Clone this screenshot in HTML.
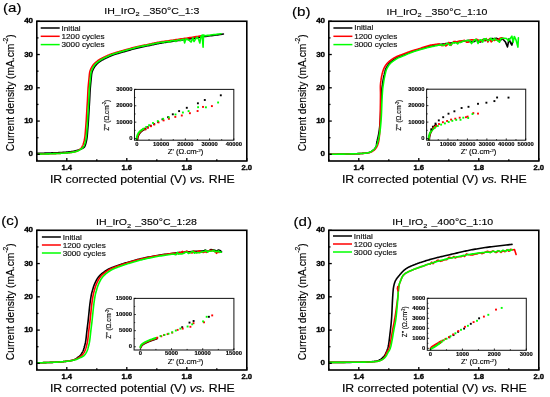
<!DOCTYPE html>
<html><head><meta charset="utf-8"><title>IrO2 polarization curves</title>
<style>
html,body{margin:0;padding:0;background:#fff;}
svg{display:block;}
text{font-family:'Liberation Sans', Arial, sans-serif;}
</style></head>
<body>
<svg width="550" height="397" viewBox="0 0 550 397">
<rect width="550" height="397" fill="#fff"/>
<text transform="translate(3.00,12.00) scale(1.24,1)" font-size="12.2" font-weight="normal" text-anchor="start" fill="#000" stroke="#000" stroke-width="0.15">(a)</text>
<text transform="translate(104.30,14.20) scale(1.228,1)" font-size="8.6" font-weight="normal" text-anchor="start" fill="#000" stroke="#000" stroke-width="0.12">IH_IrO<tspan font-size="6" dy="2.2">2</tspan><tspan dy="-2.2" dx="0.9"> _350&#176;C_1:3</tspan></text>
<text transform="translate(33.10,156.35) scale(1.22,1)" font-size="6.6" font-weight="bold" text-anchor="end" fill="#000" stroke="#000" stroke-width="0.3">0</text>
<text transform="translate(33.10,123.07) scale(1.22,1)" font-size="6.6" font-weight="bold" text-anchor="end" fill="#000" stroke="#000" stroke-width="0.3">10</text>
<text transform="translate(33.10,89.80) scale(1.22,1)" font-size="6.6" font-weight="bold" text-anchor="end" fill="#000" stroke="#000" stroke-width="0.3">20</text>
<text transform="translate(33.10,56.52) scale(1.22,1)" font-size="6.6" font-weight="bold" text-anchor="end" fill="#000" stroke="#000" stroke-width="0.3">30</text>
<text transform="translate(33.10,23.25) scale(1.22,1)" font-size="6.6" font-weight="bold" text-anchor="end" fill="#000" stroke="#000" stroke-width="0.3">40</text>
<text transform="translate(66.80,169.80) scale(1.18,1)" font-size="6.5" font-weight="bold" text-anchor="middle" fill="#000" stroke="#000" stroke-width="0.3">1.4</text>
<text transform="translate(126.80,169.80) scale(1.18,1)" font-size="6.5" font-weight="bold" text-anchor="middle" fill="#000" stroke="#000" stroke-width="0.3">1.6</text>
<text transform="translate(186.80,169.80) scale(1.18,1)" font-size="6.5" font-weight="bold" text-anchor="middle" fill="#000" stroke="#000" stroke-width="0.3">1.8</text>
<text transform="translate(246.80,169.80) scale(1.18,1)" font-size="6.5" font-weight="bold" text-anchor="middle" fill="#000" stroke="#000" stroke-width="0.3">2.0</text>
<text transform="translate(49.90,183.10) scale(1.228,1)" font-size="10.0" font-weight="normal" text-anchor="start" fill="#000" stroke="#000" stroke-width="0.15">IR corrected potential (V) <tspan font-style="italic">vs.</tspan> RHE</text>
<text transform="translate(14.00,92.75) scale(1.15,1) rotate(-90)" font-size="10.25" font-weight="normal" text-anchor="middle" fill="#000" stroke="#000" stroke-width="0.15">Current density (mA.cm<tspan font-size="6.6" dy="-5.0">-2</tspan><tspan dy="5.0">)</tspan></text>
<line x1="40.70" y1="28.00" x2="59.70" y2="28.00" stroke="#000" stroke-width="1.5" stroke-linecap="butt"/>
<text transform="translate(61.50,30.80) scale(1.22,1)" font-size="6.7" font-weight="normal" text-anchor="start" fill="#111" stroke="#111" stroke-width="0.15">Initial</text>
<line x1="40.70" y1="36.30" x2="59.70" y2="36.30" stroke="#ff0000" stroke-width="1.5" stroke-linecap="butt"/>
<text transform="translate(61.50,39.10) scale(1.22,1)" font-size="6.7" font-weight="normal" text-anchor="start" fill="#111" stroke="#111" stroke-width="0.15">1200 cycles</text>
<line x1="40.70" y1="44.60" x2="59.70" y2="44.60" stroke="#00ff00" stroke-width="1.5" stroke-linecap="butt"/>
<text transform="translate(61.50,47.40) scale(1.22,1)" font-size="6.7" font-weight="normal" text-anchor="start" fill="#111" stroke="#111" stroke-width="0.15">3000 cycles</text>
<path d="M37.00,153.40 L37.61,153.38 L38.37,153.36 L39.27,153.33 L40.27,153.30 L41.36,153.27 L42.52,153.24 L43.72,153.20 L44.95,153.16 L46.19,153.12 L47.40,153.08 L48.58,153.04 L49.70,153.00 L50.80,152.96 L51.93,152.92 L53.08,152.87 L54.24,152.83 L55.41,152.78 L56.58,152.73 L57.73,152.68 L58.86,152.63 L59.96,152.58 L61.02,152.52 L62.04,152.46 L63.00,152.40 L63.92,152.34 L64.82,152.27 L65.70,152.19 L66.55,152.12 L67.37,152.04 L68.16,151.96 L68.91,151.88 L69.63,151.80 L70.31,151.72 L70.95,151.65 L71.55,151.57 L72.10,151.50 L72.60,151.43 L73.03,151.36 L73.41,151.30 L73.74,151.23 L74.04,151.17 L74.30,151.11 L74.54,151.04 L74.77,150.98 L74.99,150.91 L75.22,150.84 L75.45,150.77 L75.70,150.70 L75.97,150.65 L76.24,150.59 L76.50,150.54 L76.75,150.48 L76.99,150.43 L77.23,150.37 L77.47,150.31 L77.70,150.25 L77.93,150.19 L78.16,150.12 L78.39,150.05 L78.62,149.98 L78.85,149.90 L79.08,149.82 L79.31,149.74 L79.54,149.65 L79.76,149.56 L79.98,149.46 L80.20,149.37 L80.42,149.27 L80.63,149.18 L80.84,149.08 L81.05,148.99 L81.25,148.90 L81.44,148.81 L81.63,148.73 L81.81,148.66 L81.99,148.58 L82.16,148.50 L82.33,148.43 L82.50,148.35 L82.67,148.26 L82.84,148.17 L83.02,148.06 L83.20,147.95 L83.38,147.82 L83.57,147.69 L83.75,147.55 L83.94,147.42 L84.12,147.28 L84.31,147.13 L84.46,146.93 L84.60,146.69 L84.74,146.43 L84.88,146.15 L85.02,145.83 L85.16,145.48 L85.30,145.10 L85.44,144.68 L85.58,144.23 L85.72,143.76 L85.87,143.26 L86.01,142.73 L86.15,142.17 L86.29,141.60 L86.42,141.00 L86.55,140.38 L86.68,139.74 L86.79,139.08 L86.90,138.40 L87.00,137.69 L87.09,136.93 L87.18,136.13 L87.26,135.30 L87.34,134.45 L87.41,133.58 L87.48,132.71 L87.55,131.85 L87.61,131.00 L87.68,130.17 L87.74,129.36 L87.80,128.60 L87.86,127.88 L87.92,127.21 L87.97,126.57 L88.02,125.95 L88.07,125.34 L88.11,124.74 L88.16,124.13 L88.20,123.50 L88.25,122.84 L88.30,122.14 L88.35,121.40 L88.40,120.60 L88.46,119.73 L88.51,118.79 L88.57,117.79 L88.63,116.75 L88.69,115.68 L88.76,114.60 L88.82,113.52 L88.88,112.45 L88.94,111.41 L88.99,110.41 L89.05,109.47 L89.10,108.60 L89.15,107.80 L89.19,107.06 L89.24,106.37 L89.28,105.71 L89.32,105.08 L89.36,104.47 L89.40,103.87 L89.44,103.27 L89.48,102.65 L89.52,102.00 L89.56,101.32 L89.60,100.60 L89.64,99.82 L89.68,99.00 L89.72,98.15 L89.77,97.27 L89.81,96.37 L89.85,95.47 L89.89,94.58 L89.93,93.71 L89.97,92.87 L90.02,92.06 L90.06,91.30 L90.10,90.60 L90.14,89.96 L90.18,89.36 L90.22,88.80 L90.27,88.27 L90.31,87.77 L90.35,87.29 L90.39,86.83 L90.43,86.38 L90.47,85.94 L90.52,85.50 L90.56,85.05 L90.60,84.60 L90.64,84.15 L90.68,83.72 L90.72,83.31 L90.76,82.91 L90.80,82.51 L90.84,82.12 L90.88,81.72 L90.92,81.33 L90.96,80.92 L91.01,80.50 L91.05,80.06 L91.10,79.60 L91.15,79.11 L91.20,78.60 L91.25,78.06 L91.30,77.50 L91.35,76.94 L91.40,76.37 L91.46,75.81 L91.51,75.26 L91.58,74.73 L91.65,74.22 L91.72,73.74 L91.80,73.30 L91.88,72.90 L91.97,72.52 L92.06,72.17 L92.15,71.85 L92.25,71.54 L92.35,71.24 L92.46,70.96 L92.57,70.67 L92.69,70.39 L92.82,70.10 L92.95,69.81 L93.10,69.50 L93.25,69.18 L93.42,68.86 L93.59,68.53 L93.77,68.20 L93.95,67.88 L94.14,67.55 L94.34,67.23 L94.54,66.91 L94.75,66.59 L94.96,66.29 L95.18,65.99 L95.40,65.70 L95.62,65.42 L95.84,65.15 L96.07,64.89 L96.29,64.64 L96.52,64.39 L96.76,64.15 L97.01,63.91 L97.26,63.67 L97.53,63.43 L97.81,63.19 L98.10,62.95 L98.40,62.70 L98.72,62.45 L99.06,62.19 L99.42,61.93 L99.79,61.67 L100.16,61.41 L100.55,61.16 L100.94,60.90 L101.34,60.65 L101.73,60.40 L102.13,60.16 L102.52,59.93 L102.90,59.70 L103.28,59.48 L103.65,59.28 L104.03,59.08 L104.40,58.88 L104.77,58.69 L105.15,58.51 L105.53,58.32 L105.91,58.14 L106.30,57.96 L106.69,57.78 L107.09,57.59 L107.50,57.40 L107.91,57.21 L108.33,57.01 L108.76,56.82 L109.19,56.62 L109.62,56.42 L110.06,56.22 L110.51,56.03 L110.96,55.84 L111.41,55.65 L111.87,55.46 L112.33,55.28 L112.80,55.10 L113.27,54.93 L113.75,54.76 L114.23,54.60 L114.71,54.44 L115.20,54.29 L115.69,54.13 L116.19,53.98 L116.70,53.83 L117.21,53.67 L117.73,53.52 L118.26,53.36 L118.80,53.20 L119.33,53.04 L119.85,52.89 L120.36,52.74 L120.87,52.59 L121.39,52.44 L121.92,52.29 L122.48,52.13 L123.06,51.97 L123.67,51.79 L124.33,51.61 L125.04,51.41 L125.80,51.20 L126.62,50.97 L127.50,50.72 L128.43,50.45 L129.39,50.17 L130.39,49.89 L131.43,49.59 L132.48,49.30 L133.54,49.00 L134.61,48.71 L135.68,48.43 L136.75,48.16 L137.80,47.90 L138.86,47.65 L139.94,47.41 L141.05,47.17 L142.17,46.93 L143.30,46.70 L144.43,46.48 L145.55,46.25 L146.65,46.03 L147.74,45.82 L148.80,45.61 L149.82,45.40 L150.80,45.20 L151.72,45.00 L152.58,44.82 L153.39,44.64 L154.17,44.46 L154.93,44.29 L155.68,44.12 L156.43,43.95 L157.21,43.79 L158.02,43.62 L158.88,43.45 L159.80,43.28 L160.80,43.10 L161.87,42.92 L163.01,42.74 L164.20,42.56 L165.43,42.37 L166.70,42.19 L167.99,42.01 L169.30,41.82 L170.61,41.64 L171.93,41.45 L173.24,41.27 L174.53,41.08 L175.80,40.90 L177.05,40.72 L178.30,40.53 L179.55,40.35 L180.80,40.17 L182.05,39.99 L183.30,39.81 L184.55,39.62 L185.80,39.44 L187.05,39.26 L188.30,39.07 L189.55,38.89 L190.80,38.70 L192.05,38.51 L193.29,38.32 L194.53,38.13 L195.76,37.93 L197.00,37.74 L198.24,37.54 L199.48,37.35 L200.73,37.16 L201.98,36.96 L203.24,36.77 L204.51,36.58 L205.80,36.40 L207.15,36.21 L208.59,36.01 L210.10,35.81 L211.65,35.61 L213.21,35.40 L214.74,35.21 L216.22,35.02 L217.61,34.84 L218.90,34.67 L220.05,34.53 L221.02,34.40 L221.80,34.30 L223.40,34.00" fill="none" stroke="#000" stroke-width="1.6" stroke-linejoin="round" stroke-linecap="round"/>
<path d="M37.30,154.20 L37.91,154.18 L38.67,154.16 L39.57,154.13 L40.57,154.10 L41.66,154.07 L42.82,154.04 L44.02,154.00 L45.25,153.96 L46.49,153.92 L47.70,153.88 L48.88,153.84 L50.00,153.80 L51.10,153.76 L52.23,153.72 L53.38,153.67 L54.54,153.63 L55.71,153.58 L56.88,153.53 L58.03,153.48 L59.16,153.43 L60.26,153.38 L61.32,153.32 L62.34,153.26 L63.30,153.20 L64.22,153.14 L65.12,153.07 L66.00,152.99 L66.85,152.92 L67.67,152.84 L68.46,152.76 L69.21,152.68 L69.93,152.60 L70.61,152.53 L71.25,152.45 L71.85,152.37 L72.40,152.30 L72.90,152.23 L73.33,152.16 L73.71,152.10 L74.04,152.03 L74.34,151.97 L74.60,151.91 L74.84,151.84 L75.07,151.78 L75.29,151.71 L75.52,151.64 L75.75,151.57 L76.00,151.50 L76.24,151.42 L76.47,151.34 L76.69,151.26 L76.90,151.18 L77.11,151.10 L77.31,151.02 L77.51,150.93 L77.70,150.84 L77.89,150.75 L78.08,150.65 L78.26,150.55 L78.44,150.44 L78.62,150.33 L78.79,150.21 L78.97,150.08 L79.13,149.95 L79.30,149.82 L79.46,149.68 L79.62,149.54 L79.77,149.40 L79.92,149.26 L80.07,149.12 L80.21,148.98 L80.35,148.85 L80.49,148.72 L80.62,148.60 L80.75,148.49 L80.88,148.38 L81.00,148.27 L81.12,148.15 L81.23,148.04 L81.34,147.91 L81.45,147.77 L81.56,147.62 L81.66,147.45 L81.76,147.26 L81.86,147.06 L81.95,146.87 L82.05,146.67 L82.14,146.46 L82.23,146.25 L82.36,146.03 L82.50,145.79 L82.64,145.53 L82.78,145.25 L82.92,144.93 L83.06,144.58 L83.20,144.20 L83.34,143.78 L83.48,143.33 L83.62,142.86 L83.77,142.36 L83.91,141.83 L84.05,141.27 L84.19,140.70 L84.32,140.10 L84.45,139.48 L84.58,138.84 L84.69,138.18 L84.80,137.50 L84.90,136.79 L84.99,136.03 L85.08,135.23 L85.16,134.40 L85.24,133.55 L85.31,132.68 L85.38,131.81 L85.45,130.95 L85.51,130.10 L85.58,129.27 L85.64,128.46 L85.70,127.70 L85.76,126.98 L85.82,126.31 L85.87,125.67 L85.92,125.05 L85.97,124.44 L86.01,123.84 L86.06,123.23 L86.10,122.60 L86.15,121.94 L86.20,121.24 L86.25,120.50 L86.30,119.70 L86.36,118.83 L86.41,117.89 L86.47,116.89 L86.53,115.85 L86.59,114.78 L86.66,113.70 L86.72,112.62 L86.78,111.55 L86.84,110.51 L86.89,109.51 L86.95,108.57 L87.00,107.70 L87.05,106.90 L87.09,106.16 L87.14,105.47 L87.18,104.81 L87.22,104.18 L87.26,103.58 L87.30,102.97 L87.34,102.37 L87.38,101.75 L87.42,101.10 L87.46,100.42 L87.50,99.70 L87.54,98.92 L87.58,98.10 L87.62,97.25 L87.67,96.37 L87.71,95.47 L87.75,94.58 L87.79,93.68 L87.83,92.81 L87.88,91.97 L87.92,91.16 L87.96,90.40 L88.00,89.70 L88.04,89.06 L88.08,88.46 L88.12,87.90 L88.17,87.37 L88.21,86.87 L88.25,86.39 L88.29,85.93 L88.33,85.48 L88.38,85.04 L88.42,84.60 L88.46,84.15 L88.50,83.70 L88.54,83.25 L88.58,82.82 L88.62,82.41 L88.66,82.01 L88.70,81.61 L88.74,81.22 L88.78,80.82 L88.82,80.43 L88.86,80.02 L88.91,79.60 L88.95,79.16 L89.00,78.70 L89.05,78.21 L89.10,77.70 L89.15,77.16 L89.20,76.60 L89.25,76.04 L89.30,75.47 L89.36,74.91 L89.41,74.36 L89.48,73.83 L89.55,73.32 L89.62,72.84 L89.70,72.40 L89.78,72.00 L89.87,71.62 L89.96,71.27 L90.05,70.95 L90.15,70.64 L90.25,70.34 L90.36,70.06 L90.47,69.77 L90.59,69.49 L90.72,69.20 L90.85,68.91 L91.00,68.60 L91.15,68.28 L91.32,67.96 L91.49,67.63 L91.67,67.30 L91.85,66.98 L92.04,66.65 L92.24,66.33 L92.44,66.01 L92.65,65.69 L92.86,65.39 L93.08,65.09 L93.30,64.80 L93.52,64.52 L93.74,64.25 L93.97,63.99 L94.19,63.74 L94.42,63.49 L94.66,63.25 L94.91,63.01 L95.16,62.77 L95.43,62.53 L95.71,62.29 L96.00,62.05 L96.30,61.80 L96.62,61.55 L96.96,61.29 L97.32,61.03 L97.69,60.77 L98.06,60.51 L98.45,60.26 L98.84,60.00 L99.24,59.75 L99.63,59.50 L100.03,59.26 L100.42,59.03 L100.80,58.80 L101.18,58.58 L101.55,58.38 L101.93,58.18 L102.30,57.98 L102.67,57.79 L103.05,57.61 L103.43,57.42 L103.81,57.24 L104.20,57.06 L104.59,56.88 L104.99,56.69 L105.40,56.50 L105.81,56.31 L106.23,56.11 L106.66,55.92 L107.09,55.72 L107.52,55.52 L107.96,55.32 L108.41,55.13 L108.86,54.94 L109.31,54.75 L109.77,54.56 L110.23,54.38 L110.70,54.20 L111.17,54.03 L111.65,53.86 L112.13,53.70 L112.61,53.54 L113.10,53.39 L113.59,53.23 L114.09,53.08 L114.60,52.93 L115.11,52.77 L115.63,52.62 L116.16,52.46 L116.70,52.30 L117.23,52.14 L117.75,51.99 L118.26,51.84 L118.77,51.69 L119.29,51.54 L119.83,51.39 L120.38,51.23 L120.96,51.07 L121.58,50.89 L122.23,50.71 L122.94,50.51 L123.70,50.30 L124.52,50.07 L125.40,49.82 L126.33,49.55 L127.29,49.27 L128.29,48.99 L129.32,48.69 L130.38,48.40 L131.44,48.10 L132.51,47.81 L133.58,47.53 L134.65,47.26 L135.70,47.00 L136.76,46.75 L137.84,46.51 L138.95,46.27 L140.07,46.03 L141.20,45.80 L142.32,45.58 L143.45,45.35 L144.55,45.13 L145.64,44.92 L146.70,44.71 L147.72,44.50 L148.70,44.30 L149.62,44.10 L150.48,43.92 L151.29,43.74 L152.07,43.56 L152.83,43.39 L153.57,43.22 L154.33,43.05 L155.11,42.89 L155.92,42.72 L156.78,42.55 L157.70,42.38 L158.70,42.20 L159.77,42.02 L160.91,41.84 L162.10,41.66 L163.33,41.47 L164.60,41.29 L165.89,41.11 L167.20,40.92 L168.51,40.74 L169.83,40.55 L171.14,40.37 L172.43,40.18 L173.70,40.00 L174.95,39.82 L176.20,39.63 L177.45,39.45 L178.70,39.27 L179.95,39.09 L181.20,38.91 L182.45,38.72 L183.70,38.54 L184.95,38.36 L186.20,38.17 L187.45,37.99 L188.70,37.80 L189.95,37.61 L191.19,37.42 L192.43,37.23 L193.66,37.03 L194.90,36.84 L196.14,36.64 L197.38,36.45 L198.63,36.26 L199.88,36.06 L201.14,35.87" fill="none" stroke="#ff0000" stroke-width="1.6" stroke-linejoin="round" stroke-linecap="round"/>
<path d="M37.30,154.20 L37.91,154.18 L38.67,154.16 L39.57,154.13 L40.57,154.10 L41.66,154.07 L42.82,154.04 L44.02,154.00 L45.25,153.96 L46.49,153.92 L47.70,153.88 L48.88,153.84 L50.00,153.80 L51.10,153.76 L52.23,153.72 L53.38,153.67 L54.54,153.63 L55.71,153.58 L56.88,153.53 L58.03,153.48 L59.16,153.43 L60.26,153.38 L61.32,153.32 L62.34,153.26 L63.30,153.20 L64.22,153.14 L65.12,153.07 L66.00,152.99 L66.85,152.92 L67.67,152.84 L68.46,152.76 L69.21,152.68 L69.93,152.60 L70.61,152.53 L71.25,152.45 L71.85,152.37 L72.40,152.30 L72.90,152.23 L73.33,152.16 L73.71,152.10 L74.04,152.03 L74.34,151.97 L74.60,151.91 L74.84,151.84 L75.07,151.78 L75.29,151.71 L75.52,151.64 L75.75,151.57 L76.00,151.50 L76.26,151.43 L76.51,151.35 L76.75,151.28 L76.98,151.20 L77.21,151.12 L77.43,151.04 L77.65,150.96 L77.86,150.88 L78.07,150.79 L78.28,150.70 L78.49,150.60 L78.70,150.50 L78.91,150.39 L79.11,150.28 L79.31,150.16 L79.51,150.04 L79.71,149.91 L79.91,149.78 L80.10,149.65 L80.29,149.52 L80.47,149.39 L80.65,149.26 L80.83,149.13 L81.00,149.00 L81.17,148.88 L81.33,148.77 L81.49,148.66 L81.64,148.56 L81.79,148.45 L81.94,148.34 L82.08,148.23 L82.23,148.11 L82.37,147.98 L82.51,147.84 L82.66,147.68 L82.80,147.50 L82.95,147.31 L83.09,147.13 L83.23,146.94 L83.38,146.75 L83.52,146.54 L83.66,146.33 L83.80,146.09 L83.94,145.83 L84.08,145.55 L84.22,145.23 L84.36,144.88 L84.50,144.50 L84.64,144.08 L84.78,143.63 L84.92,143.16 L85.07,142.66 L85.21,142.13 L85.35,141.57 L85.49,141.00 L85.62,140.40 L85.75,139.78 L85.88,139.14 L85.99,138.48 L86.10,137.80 L86.20,137.09 L86.29,136.33 L86.38,135.53 L86.46,134.70 L86.54,133.85 L86.61,132.98 L86.68,132.11 L86.75,131.25 L86.81,130.40 L86.88,129.57 L86.94,128.76 L87.00,128.00 L87.06,127.28 L87.12,126.61 L87.17,125.97 L87.22,125.35 L87.27,124.74 L87.31,124.14 L87.36,123.53 L87.40,122.90 L87.45,122.24 L87.50,121.54 L87.55,120.80 L87.60,120.00 L87.66,119.13 L87.71,118.19 L87.77,117.19 L87.83,116.15 L87.89,115.08 L87.96,114.00 L88.02,112.92 L88.08,111.85 L88.14,110.81 L88.19,109.81 L88.25,108.87 L88.30,108.00 L88.35,107.20 L88.39,106.46 L88.44,105.77 L88.48,105.11 L88.52,104.48 L88.56,103.88 L88.60,103.27 L88.64,102.67 L88.68,102.05 L88.72,101.40 L88.76,100.72 L88.80,100.00 L88.84,99.22 L88.88,98.40 L88.92,97.55 L88.97,96.67 L89.01,95.77 L89.05,94.88 L89.09,93.98 L89.13,93.11 L89.17,92.27 L89.22,91.46 L89.26,90.70 L89.30,90.00 L89.34,89.36 L89.38,88.76 L89.42,88.20 L89.47,87.67 L89.51,87.17 L89.55,86.69 L89.59,86.23 L89.63,85.78 L89.67,85.34 L89.72,84.90 L89.76,84.45 L89.80,84.00 L89.84,83.55 L89.88,83.12 L89.92,82.71 L89.96,82.31 L90.00,81.91 L90.04,81.52 L90.08,81.12 L90.12,80.73 L90.16,80.32 L90.21,79.90 L90.25,79.46 L90.30,79.00 L90.35,78.51 L90.40,78.00 L90.45,77.46 L90.50,76.90 L90.55,76.34 L90.60,75.77 L90.66,75.21 L90.71,74.66 L90.78,74.13 L90.85,73.62 L90.92,73.14 L91.00,72.70 L91.08,72.30 L91.17,71.92 L91.26,71.57 L91.35,71.25 L91.45,70.94 L91.55,70.64 L91.66,70.36 L91.77,70.07 L91.89,69.79 L92.02,69.50 L92.15,69.21 L92.30,68.90 L92.45,68.58 L92.62,68.26 L92.79,67.93 L92.97,67.60 L93.15,67.28 L93.34,66.95 L93.54,66.63 L93.74,66.31 L93.95,65.99 L94.16,65.69 L94.38,65.39 L94.60,65.10 L94.82,64.82 L95.04,64.55 L95.27,64.29 L95.49,64.04 L95.72,63.79 L95.96,63.55 L96.21,63.31 L96.46,63.07 L96.73,62.83 L97.01,62.59 L97.30,62.35 L97.60,62.10 L97.92,61.85 L98.26,61.59 L98.62,61.33 L98.99,61.07 L99.36,60.81 L99.75,60.56 L100.14,60.30 L100.54,60.05 L100.93,59.80 L101.33,59.56 L101.72,59.33 L102.10,59.10 L102.48,58.88 L102.85,58.68 L103.23,58.48 L103.60,58.28 L103.97,58.09 L104.35,57.91 L104.73,57.72 L105.11,57.54 L105.50,57.36 L105.89,57.18 L106.29,56.99 L106.70,56.80 L107.11,56.61 L107.53,56.41 L107.96,56.22 L108.39,56.02 L108.82,55.82 L109.26,55.62 L109.71,55.43 L110.16,55.24 L110.61,55.05 L111.07,54.86 L111.53,54.68 L112.00,54.50 L112.47,54.33 L112.95,54.16 L113.43,54.00 L113.91,53.84 L114.40,53.69 L114.89,53.53 L115.39,53.38 L115.90,53.23 L116.41,53.07 L116.93,52.92 L117.46,52.76 L118.00,52.60 L118.53,52.44 L119.05,52.29 L119.56,52.14 L120.07,51.99 L120.59,51.84 L121.12,51.69 L121.68,51.53 L122.26,51.37 L122.88,51.19 L123.53,51.01 L124.24,50.81 L125.00,50.60 L125.82,50.37 L126.70,50.12 L127.62,49.85 L128.59,49.57 L129.59,49.29 L130.62,48.99 L131.68,48.70 L132.74,48.40 L133.81,48.11 L134.88,47.83 L135.95,47.56 L137.00,47.30 L138.06,47.05 L139.14,46.81 L140.25,46.57 L141.37,46.33 L142.50,46.10 L143.62,45.88 L144.75,45.65 L145.85,45.43 L146.94,45.22 L148.00,45.01 L149.02,44.80 L150.00,44.60 L150.92,44.40 L151.78,44.22 L152.59,44.04 L153.37,43.86 L154.13,43.69 L154.88,43.52 L155.63,43.35 L156.41,43.19 L157.22,43.02 L158.08,42.85 L159.00,42.68 L160.00,42.50 L161.07,42.32 L162.21,42.14 L163.00,42.73 L164.04,42.04 L165.49,41.76 L166.97,41.67 L168.39,41.37 L169.43,42.24 L170.47,41.13 L171.42,40.82 L173.01,40.65 L174.49,40.41 L175.92,41.49 L177.37,39.97 L178.52,39.97 L179.57,39.89 L180.72,40.57 L181.95,39.43 L183.80,39.22 L184.60,42.90 L185.90,38.81 L187.90,39.81 L189.50,40.57 L191.20,42.02 L192.80,37.87 L194.00,41.48 L195.70,38.82 L197.30,37.17 L198.60,39.36 L199.80,42.98 L201.00,36.59 L202.20,35.01 L203.10,47.28 L203.50,35.02 L205.00,35.80 L206.35,35.61 L207.79,35.41 L209.30,35.21 L210.85,35.01 L212.41,34.80 L213.94,34.61 L215.42,34.42 L216.81,34.24 L218.10,34.07 L219.25,33.93 L220.22,33.80 L221.00,33.70" fill="none" stroke="#00ff00" stroke-width="1.6" stroke-linejoin="round" stroke-linecap="round"/>
<rect x="36.80" y="21.25" width="210.00" height="139.75" fill="none" stroke="#000" stroke-width="1.6"/>
<line x1="36.80" y1="161.00" x2="36.80" y2="159.30" stroke="#000" stroke-width="1.3" stroke-linecap="butt"/>
<line x1="66.80" y1="161.00" x2="66.80" y2="158.00" stroke="#000" stroke-width="1.3" stroke-linecap="butt"/>
<line x1="96.80" y1="161.00" x2="96.80" y2="159.30" stroke="#000" stroke-width="1.3" stroke-linecap="butt"/>
<line x1="126.80" y1="161.00" x2="126.80" y2="158.00" stroke="#000" stroke-width="1.3" stroke-linecap="butt"/>
<line x1="156.80" y1="161.00" x2="156.80" y2="159.30" stroke="#000" stroke-width="1.3" stroke-linecap="butt"/>
<line x1="186.80" y1="161.00" x2="186.80" y2="158.00" stroke="#000" stroke-width="1.3" stroke-linecap="butt"/>
<line x1="216.80" y1="161.00" x2="216.80" y2="159.30" stroke="#000" stroke-width="1.3" stroke-linecap="butt"/>
<line x1="246.80" y1="161.00" x2="246.80" y2="158.00" stroke="#000" stroke-width="1.3" stroke-linecap="butt"/>
<line x1="36.80" y1="154.35" x2="39.80" y2="154.35" stroke="#000" stroke-width="1.3" stroke-linecap="butt"/>
<line x1="36.80" y1="137.71" x2="38.50" y2="137.71" stroke="#000" stroke-width="1.3" stroke-linecap="butt"/>
<line x1="36.80" y1="121.07" x2="39.80" y2="121.07" stroke="#000" stroke-width="1.3" stroke-linecap="butt"/>
<line x1="36.80" y1="104.43" x2="38.50" y2="104.43" stroke="#000" stroke-width="1.3" stroke-linecap="butt"/>
<line x1="36.80" y1="87.80" x2="39.80" y2="87.80" stroke="#000" stroke-width="1.3" stroke-linecap="butt"/>
<line x1="36.80" y1="71.16" x2="38.50" y2="71.16" stroke="#000" stroke-width="1.3" stroke-linecap="butt"/>
<line x1="36.80" y1="54.52" x2="39.80" y2="54.52" stroke="#000" stroke-width="1.3" stroke-linecap="butt"/>
<line x1="36.80" y1="37.89" x2="38.50" y2="37.89" stroke="#000" stroke-width="1.3" stroke-linecap="butt"/>
<line x1="36.80" y1="21.25" x2="39.80" y2="21.25" stroke="#000" stroke-width="1.3" stroke-linecap="butt"/>
<rect x="134.50" y="89.40" width="99.30" height="50.80" fill="#fff" stroke="none"/>
<path d="M137.40,139.50 L137.42,139.38 L137.44,139.23 L137.46,139.05 L137.48,138.85 L137.51,138.64 L137.54,138.41 L137.57,138.17 L137.61,137.93 L137.65,137.68 L137.69,137.45 L137.74,137.22 L137.80,137.00 L137.86,136.79 L137.93,136.58 L138.00,136.37 L138.07,136.15 L138.15,135.94 L138.23,135.72 L138.32,135.51 L138.41,135.30 L138.50,135.10 L138.60,134.89 L138.70,134.69 L138.80,134.50 L138.91,134.31 L139.02,134.12 L139.13,133.94 L139.24,133.76 L139.36,133.58 L139.49,133.41 L139.61,133.23 L139.74,133.06 L139.88,132.89 L140.02,132.73 L140.16,132.56 L140.30,132.40 L140.45,132.24 L140.59,132.08 L140.74,131.93 L140.90,131.78 L141.05,131.63 L141.21,131.48 L141.38,131.33 L141.55,131.19 L141.73,131.04 L141.91,130.90 L142.10,130.75 L142.30,130.60 L142.52,130.44 L142.76,130.28 L143.03,130.11 L143.31,129.93 L143.59,129.76 L143.88,129.59 L144.15,129.42 L144.41,129.27 L144.66,129.12 L144.87,129.00 L145.06,128.89 L145.20,128.80" fill="none" stroke="#000" stroke-width="1.9" stroke-linejoin="round" stroke-linecap="round"/>
<path d="M137.20,139.50 L137.21,139.38 L137.23,139.23 L137.24,139.05 L137.26,138.85 L137.27,138.64 L137.29,138.41 L137.32,138.17 L137.34,137.93 L137.38,137.68 L137.41,137.45 L137.45,137.22 L137.50,137.00 L137.55,136.79 L137.61,136.58 L137.67,136.37 L137.73,136.16 L137.80,135.95 L137.88,135.74 L137.95,135.53 L138.03,135.32 L138.12,135.11 L138.21,134.91 L138.30,134.70 L138.40,134.50 L138.50,134.30 L138.61,134.10 L138.72,133.90 L138.84,133.70 L138.96,133.50 L139.08,133.31 L139.21,133.11 L139.34,132.92 L139.48,132.74 L139.61,132.55 L139.76,132.37 L139.90,132.20 L140.05,132.03 L140.20,131.87 L140.35,131.71 L140.50,131.56 L140.66,131.41 L140.82,131.27 L140.99,131.12 L141.16,130.98 L141.34,130.84 L141.52,130.69 L141.71,130.55 L141.90,130.40 L142.11,130.24 L142.34,130.08 L142.59,129.91 L142.85,129.73 L143.11,129.56 L143.37,129.39 L143.63,129.22 L143.87,129.07 L144.10,128.92 L144.30,128.80 L144.47,128.69 L144.60,128.60" fill="none" stroke="#ff0000" stroke-width="1.9" stroke-linejoin="round" stroke-linecap="round"/>
<path d="M136.70,139.50 L136.71,139.38 L136.71,139.23 L136.72,139.05 L136.73,138.85 L136.74,138.64 L136.75,138.41 L136.76,138.17 L136.78,137.93 L136.80,137.68 L136.83,137.45 L136.86,137.22 L136.90,137.00 L136.94,136.79 L136.99,136.58 L137.05,136.37 L137.10,136.16 L137.17,135.94 L137.23,135.73 L137.30,135.52 L137.37,135.31 L137.45,135.10 L137.53,134.90 L137.61,134.70 L137.70,134.50 L137.79,134.30 L137.88,134.11 L137.98,133.92 L138.07,133.73 L138.18,133.54 L138.28,133.36 L138.39,133.17 L138.50,132.99 L138.62,132.81 L138.74,132.64 L138.87,132.47 L139.00,132.30 L139.14,132.14 L139.27,131.98 L139.42,131.82 L139.56,131.67 L139.71,131.52 L139.87,131.37 L140.03,131.22 L140.19,131.08 L140.36,130.93 L140.54,130.79 L140.72,130.65 L140.90,130.50 L141.10,130.35 L141.32,130.19 L141.56,130.03 L141.81,129.86 L142.07,129.70 L142.32,129.54 L142.57,129.38 L142.80,129.24 L143.02,129.10 L143.21,128.98 L143.37,128.88 L143.50,128.80" fill="none" stroke="#00ff00" stroke-width="1.9" stroke-linejoin="round" stroke-linecap="round"/>
<rect x="219.85" y="94.35" width="1.9" height="1.9" fill="#000"/>
<rect x="203.85" y="99.05" width="1.9" height="1.9" fill="#000"/>
<rect x="196.95" y="102.35" width="1.9" height="1.9" fill="#000"/>
<rect x="185.85" y="106.85" width="1.9" height="1.9" fill="#000"/>
<rect x="178.15" y="110.15" width="1.9" height="1.9" fill="#000"/>
<rect x="171.85" y="113.35" width="1.9" height="1.9" fill="#000"/>
<rect x="167.15" y="116.25" width="1.9" height="1.9" fill="#000"/>
<rect x="161.55" y="118.35" width="1.9" height="1.9" fill="#000"/>
<rect x="157.15" y="120.95" width="1.9" height="1.9" fill="#000"/>
<rect x="153.15" y="123.15" width="1.9" height="1.9" fill="#000"/>
<rect x="149.75" y="124.75" width="1.9" height="1.9" fill="#000"/>
<rect x="146.75" y="126.25" width="1.9" height="1.9" fill="#000"/>
<rect x="144.45" y="128.15" width="1.9" height="1.9" fill="#000"/>
<rect x="210.95" y="105.15" width="1.9" height="1.9" fill="#ff0000"/>
<rect x="202.05" y="105.95" width="1.9" height="1.9" fill="#ff0000"/>
<rect x="196.65" y="110.05" width="1.9" height="1.9" fill="#ff0000"/>
<rect x="188.95" y="112.25" width="1.9" height="1.9" fill="#ff0000"/>
<rect x="180.85" y="114.55" width="1.9" height="1.9" fill="#ff0000"/>
<rect x="174.35" y="115.95" width="1.9" height="1.9" fill="#ff0000"/>
<rect x="167.95" y="117.85" width="1.9" height="1.9" fill="#ff0000"/>
<rect x="162.65" y="119.45" width="1.9" height="1.9" fill="#ff0000"/>
<rect x="157.55" y="121.45" width="1.9" height="1.9" fill="#ff0000"/>
<rect x="153.35" y="123.55" width="1.9" height="1.9" fill="#ff0000"/>
<rect x="149.95" y="125.25" width="1.9" height="1.9" fill="#ff0000"/>
<rect x="146.95" y="126.85" width="1.9" height="1.9" fill="#ff0000"/>
<rect x="144.35" y="128.45" width="1.9" height="1.9" fill="#ff0000"/>
<rect x="217.15" y="101.55" width="1.9" height="1.9" fill="#00ff00"/>
<rect x="204.95" y="106.35" width="1.9" height="1.9" fill="#00ff00"/>
<rect x="197.15" y="106.25" width="1.9" height="1.9" fill="#00ff00"/>
<rect x="187.65" y="110.15" width="1.9" height="1.9" fill="#00ff00"/>
<rect x="181.95" y="111.55" width="1.9" height="1.9" fill="#00ff00"/>
<rect x="174.55" y="113.55" width="1.9" height="1.9" fill="#00ff00"/>
<rect x="167.95" y="116.45" width="1.9" height="1.9" fill="#00ff00"/>
<rect x="162.15" y="117.85" width="1.9" height="1.9" fill="#00ff00"/>
<rect x="156.85" y="120.15" width="1.9" height="1.9" fill="#00ff00"/>
<rect x="152.05" y="122.05" width="1.9" height="1.9" fill="#00ff00"/>
<rect x="148.15" y="124.25" width="1.9" height="1.9" fill="#00ff00"/>
<rect x="145.25" y="126.05" width="1.9" height="1.9" fill="#00ff00"/>
<rect x="142.55" y="127.85" width="1.9" height="1.9" fill="#00ff00"/>
<rect x="134.50" y="89.40" width="99.30" height="50.80" fill="none" stroke="#1a1a1a" stroke-width="1.05"/>
<line x1="136.92" y1="140.20" x2="136.92" y2="138.40" stroke="#000" stroke-width="0.8" stroke-linecap="butt"/>
<text transform="translate(136.92,145.60) scale(1.2,1)" font-size="4.9" font-weight="bold" text-anchor="middle" fill="#000" stroke="#000" stroke-width="0.12">0</text>
<line x1="149.03" y1="140.20" x2="149.03" y2="139.10" stroke="#000" stroke-width="0.8" stroke-linecap="butt"/>
<line x1="161.14" y1="140.20" x2="161.14" y2="138.40" stroke="#000" stroke-width="0.8" stroke-linecap="butt"/>
<text transform="translate(161.14,145.60) scale(1.2,1)" font-size="4.9" font-weight="bold" text-anchor="middle" fill="#000" stroke="#000" stroke-width="0.12">10000</text>
<line x1="173.25" y1="140.20" x2="173.25" y2="139.10" stroke="#000" stroke-width="0.8" stroke-linecap="butt"/>
<line x1="185.36" y1="140.20" x2="185.36" y2="138.40" stroke="#000" stroke-width="0.8" stroke-linecap="butt"/>
<text transform="translate(185.36,145.60) scale(1.2,1)" font-size="4.9" font-weight="bold" text-anchor="middle" fill="#000" stroke="#000" stroke-width="0.12">20000</text>
<line x1="197.47" y1="140.20" x2="197.47" y2="139.10" stroke="#000" stroke-width="0.8" stroke-linecap="butt"/>
<line x1="209.58" y1="140.20" x2="209.58" y2="138.40" stroke="#000" stroke-width="0.8" stroke-linecap="butt"/>
<text transform="translate(209.58,145.60) scale(1.2,1)" font-size="4.9" font-weight="bold" text-anchor="middle" fill="#000" stroke="#000" stroke-width="0.12">30000</text>
<line x1="221.69" y1="140.20" x2="221.69" y2="139.10" stroke="#000" stroke-width="0.8" stroke-linecap="butt"/>
<line x1="233.80" y1="140.20" x2="233.80" y2="138.40" stroke="#000" stroke-width="0.8" stroke-linecap="butt"/>
<text transform="translate(233.80,145.60) scale(1.2,1)" font-size="4.9" font-weight="bold" text-anchor="middle" fill="#000" stroke="#000" stroke-width="0.12">40000</text>
<line x1="134.50" y1="138.56" x2="136.30" y2="138.56" stroke="#000" stroke-width="0.8" stroke-linecap="butt"/>
<text transform="translate(132.50,140.26) scale(1.2,1)" font-size="4.9" font-weight="bold" text-anchor="end" fill="#000" stroke="#000" stroke-width="0.12">0</text>
<line x1="134.50" y1="130.37" x2="135.60" y2="130.37" stroke="#000" stroke-width="0.8" stroke-linecap="butt"/>
<line x1="134.50" y1="122.17" x2="136.30" y2="122.17" stroke="#000" stroke-width="0.8" stroke-linecap="butt"/>
<text transform="translate(132.50,123.87) scale(1.2,1)" font-size="4.9" font-weight="bold" text-anchor="end" fill="#000" stroke="#000" stroke-width="0.12">10000</text>
<line x1="134.50" y1="113.98" x2="135.60" y2="113.98" stroke="#000" stroke-width="0.8" stroke-linecap="butt"/>
<line x1="134.50" y1="105.79" x2="136.30" y2="105.79" stroke="#000" stroke-width="0.8" stroke-linecap="butt"/>
<text transform="translate(132.50,107.49) scale(1.2,1)" font-size="4.9" font-weight="bold" text-anchor="end" fill="#000" stroke="#000" stroke-width="0.12">20000</text>
<line x1="134.50" y1="97.59" x2="135.60" y2="97.59" stroke="#000" stroke-width="0.8" stroke-linecap="butt"/>
<line x1="134.50" y1="89.40" x2="136.30" y2="89.40" stroke="#000" stroke-width="0.8" stroke-linecap="butt"/>
<text transform="translate(132.50,91.10) scale(1.2,1)" font-size="4.9" font-weight="bold" text-anchor="end" fill="#000" stroke="#000" stroke-width="0.12">30000</text>
<text transform="translate(185.55,154.30) scale(1.2,1)" font-size="6.4" font-weight="normal" text-anchor="middle" fill="#000" stroke="#000" stroke-width="0.12">Z' (&#937;.cm<tspan font-size='3.9' dy='-2.3'>-2</tspan><tspan dy='2.3'>)</tspan></text>
<text transform="translate(108.50,115.30) scale(1.2,1) rotate(-90)" font-size="6.4" font-weight="normal" text-anchor="middle" fill="#000" stroke="#000" stroke-width="0.12">Z'' (&#937;.cm<tspan font-size='3.9' dy='-2.0'>-2</tspan><tspan dy='2.0'>)</tspan></text>
<text transform="translate(292.00,16.30) scale(1.24,1)" font-size="12.2" font-weight="normal" text-anchor="start" fill="#000" stroke="#000" stroke-width="0.15">(b)</text>
<text transform="translate(386.50,14.60) scale(1.228,1)" font-size="8.6" font-weight="normal" text-anchor="start" fill="#000" stroke="#000" stroke-width="0.12">IH_IrO<tspan font-size="6" dy="2.2">2</tspan><tspan dy="-2.2" dx="0.9"> _350&#176;C_1:10</tspan></text>
<text transform="translate(325.10,156.35) scale(1.22,1)" font-size="6.6" font-weight="bold" text-anchor="end" fill="#000" stroke="#000" stroke-width="0.3">0</text>
<text transform="translate(325.10,123.07) scale(1.22,1)" font-size="6.6" font-weight="bold" text-anchor="end" fill="#000" stroke="#000" stroke-width="0.3">10</text>
<text transform="translate(325.10,89.80) scale(1.22,1)" font-size="6.6" font-weight="bold" text-anchor="end" fill="#000" stroke="#000" stroke-width="0.3">20</text>
<text transform="translate(325.10,56.52) scale(1.22,1)" font-size="6.6" font-weight="bold" text-anchor="end" fill="#000" stroke="#000" stroke-width="0.3">30</text>
<text transform="translate(325.10,23.25) scale(1.22,1)" font-size="6.6" font-weight="bold" text-anchor="end" fill="#000" stroke="#000" stroke-width="0.3">40</text>
<text transform="translate(358.80,169.80) scale(1.18,1)" font-size="6.5" font-weight="bold" text-anchor="middle" fill="#000" stroke="#000" stroke-width="0.3">1.4</text>
<text transform="translate(418.80,169.80) scale(1.18,1)" font-size="6.5" font-weight="bold" text-anchor="middle" fill="#000" stroke="#000" stroke-width="0.3">1.6</text>
<text transform="translate(478.80,169.80) scale(1.18,1)" font-size="6.5" font-weight="bold" text-anchor="middle" fill="#000" stroke="#000" stroke-width="0.3">1.8</text>
<text transform="translate(538.80,169.80) scale(1.18,1)" font-size="6.5" font-weight="bold" text-anchor="middle" fill="#000" stroke="#000" stroke-width="0.3">2.0</text>
<text transform="translate(341.90,183.10) scale(1.228,1)" font-size="10.0" font-weight="normal" text-anchor="start" fill="#000" stroke="#000" stroke-width="0.15">IR corrected potential (V) <tspan font-style="italic">vs.</tspan> RHE</text>
<text transform="translate(306.00,92.75) scale(1.15,1) rotate(-90)" font-size="10.25" font-weight="normal" text-anchor="middle" fill="#000" stroke="#000" stroke-width="0.15">Current density (mA.cm<tspan font-size="6.6" dy="-5.0">-2</tspan><tspan dy="5.0">)</tspan></text>
<line x1="333.40" y1="28.00" x2="352.40" y2="28.00" stroke="#000" stroke-width="1.5" stroke-linecap="butt"/>
<text transform="translate(354.20,30.30) scale(1.22,1)" font-size="6.7" font-weight="normal" text-anchor="start" fill="#111" stroke="#111" stroke-width="0.15">Initial</text>
<line x1="333.40" y1="36.30" x2="352.40" y2="36.30" stroke="#ff0000" stroke-width="1.5" stroke-linecap="butt"/>
<text transform="translate(354.20,38.60) scale(1.22,1)" font-size="6.7" font-weight="normal" text-anchor="start" fill="#111" stroke="#111" stroke-width="0.15">1200 cycles</text>
<line x1="333.40" y1="44.60" x2="352.40" y2="44.60" stroke="#00ff00" stroke-width="1.5" stroke-linecap="butt"/>
<text transform="translate(354.20,46.90) scale(1.22,1)" font-size="6.7" font-weight="normal" text-anchor="start" fill="#111" stroke="#111" stroke-width="0.15">3000 cycles</text>
<path d="M329.50,154.30 L330.77,154.28 L332.42,154.25 L334.37,154.22 L336.57,154.19 L338.95,154.16 L341.43,154.12 L343.96,154.08 L346.47,154.03 L348.90,153.98 L351.17,153.92 L353.23,153.86 L355.00,153.80 L356.55,153.73 L357.99,153.67 L359.34,153.60 L360.59,153.53 L361.75,153.46 L362.83,153.38 L363.84,153.29 L364.79,153.19 L365.69,153.09 L366.53,152.97 L367.33,152.84 L368.10,152.70 L368.81,152.55 L369.42,152.38 L369.96,152.21 L370.44,152.03 L370.85,151.83 L371.23,151.63 L371.56,151.42 L371.87,151.20 L372.17,150.96 L372.47,150.72 L372.78,150.47 L373.10,150.20 L373.43,149.93 L373.74,149.64 L374.03,149.35 L374.31,149.05 L374.58,148.74 L374.84,148.42 L375.08,148.08 L375.32,147.74 L375.55,147.38 L375.77,147.00 L375.92,146.58 L376.07,146.14 L376.21,145.68 L376.34,145.19 L376.45,144.70 L376.55,144.18 L376.64,143.65 L376.72,143.11 L376.80,142.55 L376.87,141.98 L376.96,141.42 L377.11,140.89 L377.25,140.34 L377.40,139.80 L377.54,139.25 L377.68,138.69 L377.82,138.13 L377.96,137.55 L378.09,136.97 L378.21,136.38 L378.34,135.78 L378.46,135.18 L378.57,134.57 L378.68,133.95 L378.79,133.33 L378.90,132.70 L379.00,132.07 L379.10,131.43 L379.19,130.79 L379.28,130.14 L379.37,129.49 L379.45,128.83 L379.53,128.16 L379.61,127.48 L379.68,126.78 L379.76,126.07 L379.83,125.34 L379.90,124.60 L379.97,123.85 L380.04,123.10 L380.10,122.35 L380.16,121.59 L380.22,120.82 L380.27,120.03 L380.33,119.22 L380.39,118.37 L380.44,117.50 L380.49,116.58 L380.55,115.61 L380.60,114.60 L380.65,113.51 L380.71,112.33 L380.76,111.08 L380.81,109.79 L380.86,108.45 L380.91,107.10 L380.96,105.75 L381.00,104.41 L381.05,103.12 L381.10,101.87 L381.15,100.69 L381.20,99.60 L381.25,98.57 L381.30,97.57 L381.35,96.61 L381.40,95.67 L381.46,94.78 L381.51,93.91 L381.56,93.09 L381.61,92.30 L381.66,91.56 L381.71,90.86 L381.75,90.21 L381.80,89.60 L381.84,89.06 L381.88,88.61 L381.92,88.22 L381.96,87.90 L382.00,87.61 L382.03,87.35 L382.07,87.10 L382.11,86.86 L382.15,86.60 L382.19,86.31 L382.24,85.98 L382.30,85.60 L382.36,85.17 L382.43,84.70 L382.49,84.22 L382.57,83.71 L382.64,83.19 L382.72,82.66 L382.80,82.13 L382.88,81.60 L382.96,81.08 L383.04,80.57 L383.12,80.07 L383.20,79.60 L383.28,79.15 L383.36,78.71 L383.44,78.28 L383.51,77.86 L383.59,77.45 L383.68,77.04 L383.76,76.63 L383.84,76.23 L383.93,75.83 L384.01,75.42 L384.11,75.01 L384.20,74.60 L384.30,74.18 L384.39,73.75 L384.49,73.31 L384.60,72.88 L384.70,72.44 L384.81,72.01 L384.91,71.58 L385.03,71.16 L385.14,70.74 L385.26,70.35 L385.38,69.96 L385.50,69.60 L385.63,69.25 L385.76,68.92 L385.89,68.60 L386.03,68.29 L386.16,67.99 L386.31,67.71 L386.45,67.43 L386.60,67.15 L386.74,66.88 L386.89,66.62 L387.05,66.36 L387.20,66.10 L387.36,65.84 L387.52,65.59 L387.68,65.35 L387.84,65.11 L388.01,64.87 L388.18,64.64 L388.35,64.42 L388.52,64.20 L388.69,63.99 L388.86,63.79 L389.03,63.59 L389.20,63.40 L389.36,63.22 L389.52,63.05 L389.68,62.90 L389.83,62.75 L389.98,62.61 L390.14,62.47 L390.30,62.33 L390.46,62.20 L390.63,62.06 L390.81,61.91 L391.00,61.76 L391.20,61.60 L391.41,61.43 L391.64,61.25 L391.88,61.07 L392.13,60.88 L392.38,60.69 L392.64,60.50 L392.90,60.31 L393.16,60.12 L393.43,59.93 L393.69,59.75 L393.95,59.57 L394.20,59.40 L394.45,59.23 L394.70,59.07 L394.95,58.91 L395.20,58.75 L395.45,58.59 L395.70,58.44 L395.95,58.29 L396.20,58.14 L396.45,58.00 L396.70,57.86 L396.95,57.73 L397.20,57.60 L397.45,57.48 L397.70,57.37 L397.95,57.26 L398.20,57.16 L398.45,57.06 L398.70,56.96 L398.95,56.87 L399.20,56.78 L399.45,56.69 L399.70,56.59 L399.95,56.50 L400.20,56.40 L400.44,56.30 L400.67,56.22 L400.88,56.13 L401.09,56.05 L401.30,55.97 L401.51,55.89 L401.74,55.80 L401.98,55.70 L402.24,55.60 L402.53,55.48 L402.84,55.35 L403.20,55.20 L403.60,55.03 L404.04,54.84 L404.51,54.63 L405.01,54.41 L405.54,54.18 L406.07,53.94 L406.62,53.70 L407.16,53.46 L407.70,53.23 L408.22,53.00 L408.73,52.79 L409.20,52.60 L409.65,52.42 L410.09,52.25 L410.52,52.09 L410.94,51.93 L411.35,51.78 L411.76,51.63 L412.17,51.49 L412.57,51.35 L412.97,51.21 L413.38,51.07 L413.79,50.94 L414.20,50.80 L414.62,50.66 L415.03,50.53 L415.45,50.40 L415.87,50.27 L416.28,50.15 L416.70,50.02 L417.12,49.90 L417.53,49.78 L417.95,49.66 L418.37,49.54 L418.78,49.42 L419.20,49.30 L419.62,49.18 L420.03,49.06 L420.45,48.94 L420.87,48.82 L421.28,48.70 L421.70,48.59 L422.12,48.47 L422.53,48.36 L422.95,48.24 L423.37,48.13 L423.78,48.01 L424.20,47.90 L424.60,47.79 L424.98,47.69 L425.33,47.58 L425.68,47.49 L426.03,47.39 L426.39,47.29 L426.76,47.19 L427.16,47.08 L427.60,46.97 L428.08,46.86 L428.61,46.73 L429.20,46.60 L429.86,46.46 L430.58,46.30 L431.35,46.14 L432.16,45.96 L433.01,45.79 L433.89,45.61 L434.78,45.43 L435.68,45.25 L436.58,45.07 L437.48,44.91 L438.35,44.75 L439.20,44.60 L440.03,44.46 L440.87,44.33 L441.70,44.21 L442.53,44.09 L443.37,43.98 L444.20,43.87 L445.03,43.76 L445.87,43.65 L446.70,43.54 L447.53,43.43 L448.37,43.32 L449.20,43.20 L450.03,43.08 L450.87,42.95 L451.70,42.83 L452.53,42.70 L453.37,42.57 L454.20,42.44 L455.03,42.32 L455.87,42.19 L456.70,42.06 L457.53,41.94 L458.37,41.82 L459.20,41.70 L460.02,41.58 L460.81,41.47 L461.58,41.36 L462.35,41.25 L463.11,41.14 L463.89,41.03 L464.68,40.92 L465.50,40.82 L466.35,40.71 L467.24,40.61 L468.19,40.50 L469.20,40.40 L470.00,42.00 L472.51,41.66 L474.61,41.50 L476.77,39.51 L478.53,41.81 L480.77,42.01 L483.32,39.33 L484.91,40.76 L486.38,40.06 L487.82,40.38 L490.23,38.88 L492.23,38.65 L493.96,38.87 L496.37,38.33 L498.05,39.01 L500.37,40.54 L502.23,38.42 L505.50,42.08 L507.50,46.96 L509.00,38.85 L510.50,42.74 L511.90,45.16 L513.00,39.61" fill="none" stroke="#000" stroke-width="1.6" stroke-linejoin="round" stroke-linecap="round"/>
<path d="M329.50,154.30 L330.77,154.28 L332.42,154.25 L334.38,154.22 L336.57,154.19 L338.95,154.15 L341.44,154.11 L343.97,154.07 L346.48,154.02 L348.91,153.97 L351.18,153.92 L353.23,153.86 L355.00,153.80 L356.54,153.74 L357.98,153.68 L359.30,153.61 L360.54,153.55 L361.68,153.48 L362.75,153.41 L363.75,153.33 L364.69,153.24 L365.57,153.15 L366.41,153.04 L367.22,152.93 L368.00,152.80 L368.73,152.66 L369.38,152.52 L369.95,152.37 L370.47,152.21 L370.93,152.05 L371.36,151.88 L371.74,151.69 L372.11,151.50 L372.46,151.29 L372.80,151.07 L373.14,150.84 L373.50,150.60 L373.86,150.34 L374.19,150.08 L374.51,149.80 L374.82,149.51 L375.11,149.21 L375.38,148.89 L375.64,148.57 L375.89,148.24 L376.13,147.89 L376.36,147.54 L376.58,147.17 L376.80,146.80 L377.01,146.41 L377.20,146.02 L377.38,145.61 L377.54,145.19 L377.70,144.76 L377.85,144.32 L377.99,143.87 L378.12,143.41 L378.25,142.94 L378.37,142.47 L378.49,141.99 L378.60,141.50 L378.71,141.01 L378.81,140.53 L378.90,140.04 L378.98,139.55 L379.06,139.05 L379.13,138.54 L379.20,138.02 L379.26,137.47 L379.32,136.90 L379.38,136.30 L379.44,135.67 L379.50,135.00 L379.56,134.31 L379.61,133.59 L379.66,132.86 L379.70,132.11 L379.75,131.33 L379.79,130.53 L379.83,129.70 L379.86,128.83 L379.90,127.93 L379.93,127.00 L379.97,126.02 L380.00,125.00 L380.03,123.93 L380.06,122.79 L380.09,121.60 L380.12,120.37 L380.14,119.10 L380.17,117.81 L380.19,116.50 L380.21,115.19 L380.24,113.87 L380.26,112.56 L380.28,111.27 L380.30,110.00 L380.32,108.73 L380.34,107.43 L380.36,106.11 L380.39,104.78 L380.41,103.45 L380.43,102.12 L380.44,100.82 L380.46,99.56 L380.47,98.33 L380.49,97.15 L380.49,96.04 L380.50,95.00 L380.50,94.03 L380.49,93.12 L380.48,92.26 L380.46,91.44 L380.44,90.67 L380.42,89.94 L380.41,89.23 L380.39,88.56 L380.38,87.90 L380.38,87.26 L380.38,86.63 L380.40,86.00 L380.42,85.39 L380.46,84.81 L380.49,84.27 L380.54,83.74 L380.59,83.24 L380.64,82.75 L380.69,82.28 L380.75,81.81 L380.81,81.36 L380.87,80.91 L380.94,80.46 L381.00,80.00 L381.06,79.55 L381.13,79.11 L381.19,78.68 L381.26,78.26 L381.33,77.85 L381.40,77.44 L381.47,77.03 L381.55,76.63 L381.63,76.23 L381.72,75.82 L381.81,75.41 L381.90,75.00 L382.00,74.58 L382.10,74.16 L382.20,73.73 L382.31,73.30 L382.42,72.87 L382.54,72.44 L382.66,72.01 L382.78,71.59 L382.90,71.18 L383.03,70.78 L383.16,70.38 L383.30,70.00 L383.44,69.63 L383.58,69.27 L383.72,68.92 L383.86,68.57 L384.01,68.24 L384.16,67.91 L384.32,67.58 L384.48,67.26 L384.65,66.94 L384.83,66.63 L385.01,66.31 L385.20,66.00 L385.40,65.69 L385.61,65.38 L385.83,65.07 L386.06,64.76 L386.29,64.46 L386.53,64.16 L386.77,63.86 L387.02,63.57 L387.26,63.29 L387.51,63.02 L387.76,62.76 L388.00,62.50 L388.24,62.26 L388.49,62.02 L388.74,61.79 L388.99,61.57 L389.24,61.36 L389.49,61.16 L389.74,60.96 L389.99,60.76 L390.25,60.57 L390.50,60.38 L390.75,60.19 L391.00,60.00 L391.25,59.82 L391.49,59.64 L391.73,59.46 L391.96,59.30 L392.20,59.13 L392.44,58.97 L392.68,58.81 L392.93,58.65 L393.18,58.49 L393.44,58.33 L393.71,58.17 L394.00,58.00 L394.29,57.83 L394.59,57.67 L394.88,57.50 L395.19,57.34 L395.49,57.18 L395.81,57.01 L396.14,56.85 L396.48,56.68 L396.84,56.51 L397.21,56.34 L397.59,56.17 L398.00,56.00 L398.43,55.82 L398.88,55.65 L399.36,55.47 L399.85,55.29 L400.36,55.10 L400.88,54.92 L401.40,54.73 L401.93,54.55 L402.45,54.36 L402.98,54.17 L403.49,53.99 L404.00,53.80 L404.49,53.61 L404.95,53.43 L405.41,53.25 L405.85,53.07 L406.30,52.89 L406.75,52.71 L407.22,52.52 L407.70,52.33 L408.22,52.13 L408.77,51.93 L409.36,51.72 L410.00,51.50 L410.69,51.27 L411.44,51.03 L412.22,50.78 L413.04,50.53 L413.88,50.27 L414.75,50.00 L415.63,49.73 L416.52,49.46 L417.41,49.19 L418.29,48.93 L419.15,48.66 L420.00,48.40 L420.83,48.14 L421.67,47.86 L422.50,47.59 L423.33,47.31 L424.17,47.03 L425.00,46.75 L425.83,46.48 L426.67,46.21 L427.50,45.96 L428.33,45.72 L429.17,45.50 L430.00,45.30 L430.83,45.12 L431.67,44.96 L432.50,44.81 L433.33,44.67 L434.17,44.55 L435.00,44.44 L435.83,44.33 L436.67,44.23 L437.50,44.12 L438.33,44.02 L439.17,43.91 L440.00,44.74 L441.74,45.61 L443.22,45.34 L444.37,43.92 L445.58,45.96 L446.82,45.22 L448.85,42.46 L450.90,45.37 L452.30,43.04 L453.72,41.65 L455.40,41.58 L457.04,42.24 L458.36,41.23 L459.78,41.07 L461.19,41.09 L462.54,40.79 L464.50,40.38 L466.57,42.16 L468.41,42.19 L469.57,40.28 L471.24,39.78 L473.03,39.86 L474.59,40.03 L476.16,39.21 L477.95,39.83 L479.86,41.03 L481.63,41.13 L482.91,39.89 L484.76,40.33 L486.26,38.60 L487.81,42.01 L489.72,38.58 L491.24,41.84 L493.28,39.69 L494.62,40.52 L496.30,39.05 L497.83,40.62 L499.86,38.30 L501.57,37.87 L503.56,38.45" fill="none" stroke="#ff0000" stroke-width="1.6" stroke-linejoin="round" stroke-linecap="round"/>
<path d="M329.50,154.30 L330.77,154.28 L332.42,154.25 L334.37,154.22 L336.57,154.19 L338.95,154.16 L341.43,154.12 L343.96,154.08 L346.47,154.03 L348.90,153.98 L351.17,153.92 L353.23,153.86 L355.00,153.80 L356.55,153.73 L357.99,153.67 L359.34,153.60 L360.59,153.53 L361.75,153.46 L362.83,153.38 L363.84,153.29 L364.79,153.19 L365.69,153.09 L366.53,152.97 L367.33,152.84 L368.10,152.70 L368.81,152.55 L369.42,152.38 L369.96,152.21 L370.44,152.03 L370.85,151.83 L371.23,151.63 L371.56,151.42 L371.87,151.20 L372.17,150.96 L372.47,150.72 L372.78,150.47 L373.10,150.20 L373.43,149.93 L373.74,149.64 L374.03,149.35 L374.31,149.05 L374.58,148.74 L374.84,148.42 L375.08,148.08 L375.32,147.74 L375.55,147.38 L375.77,147.00 L375.99,146.61 L376.20,146.20 L376.41,145.77 L376.60,145.33 L376.79,144.87 L376.97,144.39 L377.14,143.90 L377.30,143.39 L377.46,142.88 L377.61,142.36 L377.76,141.82 L377.91,141.29 L378.05,140.74 L378.20,140.20 L378.34,139.65 L378.48,139.09 L378.62,138.53 L378.76,137.95 L378.89,137.37 L379.01,136.78 L379.14,136.18 L379.26,135.58 L379.37,134.97 L379.48,134.35 L379.59,133.73 L379.70,133.10 L379.80,132.47 L379.90,131.83 L379.99,131.19 L380.08,130.54 L380.17,129.89 L380.25,129.23 L380.33,128.56 L380.41,127.88 L380.48,127.18 L380.56,126.47 L380.63,125.74 L380.70,125.00 L380.77,124.25 L380.84,123.50 L380.90,122.75 L380.96,121.99 L381.02,121.22 L381.07,120.43 L381.13,119.62 L381.19,118.77 L381.24,117.90 L381.29,116.98 L381.35,116.01 L381.40,115.00 L381.45,113.91 L381.51,112.73 L381.56,111.48 L381.61,110.19 L381.66,108.85 L381.71,107.50 L381.76,106.15 L381.80,104.81 L381.85,103.52 L381.90,102.27 L381.95,101.09 L382.00,100.00 L382.05,98.97 L382.10,97.97 L382.15,97.01 L382.20,96.07 L382.26,95.18 L382.31,94.31 L382.36,93.49 L382.41,92.70 L382.46,91.96 L382.51,91.26 L382.55,90.61 L382.60,90.00 L382.64,89.46 L382.68,89.01 L382.72,88.62 L382.76,88.30 L382.80,88.01 L382.83,87.75 L382.87,87.50 L382.91,87.26 L382.95,87.00 L382.99,86.71 L383.04,86.38 L383.10,86.00 L383.16,85.57 L383.23,85.10 L383.29,84.62 L383.37,84.11 L383.44,83.59 L383.52,83.06 L383.60,82.53 L383.68,82.00 L383.76,81.48 L383.84,80.97 L383.92,80.47 L384.00,80.00 L384.08,79.55 L384.16,79.11 L384.24,78.68 L384.31,78.26 L384.39,77.85 L384.48,77.44 L384.56,77.03 L384.64,76.63 L384.73,76.23 L384.81,75.82 L384.91,75.41 L385.00,75.00 L385.10,74.58 L385.19,74.15 L385.29,73.71 L385.40,73.28 L385.50,72.84 L385.61,72.41 L385.71,71.98 L385.83,71.56 L385.94,71.14 L386.06,70.75 L386.18,70.36 L386.30,70.00 L386.43,69.65 L386.56,69.32 L386.69,69.00 L386.83,68.69 L386.96,68.39 L387.11,68.11 L387.25,67.83 L387.40,67.55 L387.54,67.28 L387.69,67.02 L387.85,66.76 L388.00,66.50 L388.16,66.24 L388.32,65.99 L388.48,65.75 L388.64,65.51 L388.81,65.27 L388.98,65.04 L389.15,64.82 L389.32,64.60 L389.49,64.39 L389.66,64.19 L389.83,63.99 L390.00,63.80 L390.16,63.62 L390.32,63.45 L390.48,63.30 L390.63,63.15 L390.78,63.01 L390.94,62.87 L391.10,62.73 L391.26,62.60 L391.43,62.46 L391.61,62.31 L391.80,62.16 L392.00,62.00 L392.21,61.83 L392.44,61.65 L392.68,61.47 L392.93,61.28 L393.18,61.09 L393.44,60.90 L393.70,60.71 L393.96,60.52 L394.23,60.33 L394.49,60.15 L394.75,59.97 L395.00,59.80 L395.25,59.63 L395.50,59.47 L395.75,59.31 L396.00,59.15 L396.25,58.99 L396.50,58.84 L396.75,58.69 L397.00,58.54 L397.25,58.40 L397.50,58.26 L397.75,58.13 L398.00,58.00 L398.25,57.88 L398.50,57.77 L398.75,57.66 L399.00,57.56 L399.25,57.46 L399.50,57.36 L399.75,57.27 L400.00,57.18 L400.25,57.09 L400.50,56.99 L400.75,56.90 L401.00,56.80 L401.24,56.70 L401.47,56.62 L401.68,56.53 L401.89,56.45 L402.10,56.37 L402.31,56.29 L402.54,56.20 L402.78,56.10 L403.04,56.00 L403.33,55.88 L403.64,55.75 L404.00,55.60 L404.40,55.43 L404.84,55.24 L405.31,55.03 L405.81,54.81 L406.34,54.58 L406.88,54.34 L407.42,54.10 L407.96,53.86 L408.50,53.63 L409.02,53.40 L409.53,53.19 L410.00,53.00 L410.45,52.82 L410.89,52.65 L411.32,52.49 L411.74,52.33 L412.15,52.18 L412.56,52.03 L412.97,51.89 L413.37,51.75 L413.77,51.61 L414.18,51.47 L414.59,51.34 L415.00,51.20 L415.42,51.06 L415.83,50.93 L416.25,50.80 L416.67,50.67 L417.08,50.55 L417.50,50.42 L417.92,50.30 L418.33,50.18 L418.75,50.06 L419.17,49.94 L419.58,49.82 L420.00,49.70 L420.42,49.58 L420.83,49.46 L421.25,49.34 L421.67,49.22 L422.08,49.10 L422.50,48.99 L422.92,48.87 L423.33,48.76 L423.75,48.64 L424.17,48.53 L424.58,48.41 L425.00,48.30 L425.40,48.19 L425.78,48.09 L426.13,47.98 L426.48,47.89 L426.83,47.79 L427.19,47.69 L427.56,47.59 L427.96,47.48 L428.40,47.37 L428.88,47.26 L429.41,47.13 L430.00,47.00 L430.66,46.86 L431.38,46.70 L432.15,46.54 L432.96,46.36 L433.81,46.19 L434.69,46.01 L435.58,45.83 L436.48,45.65 L437.38,45.47 L438.28,45.31 L439.15,45.15 L440.00,45.07 L441.77,44.78 L443.65,45.46 L445.54,44.41 L446.70,43.67 L448.24,43.26 L449.48,45.18 L451.22,44.80 L452.40,42.76 L453.45,42.67 L454.69,43.08 L456.00,42.58 L457.66,43.97 L459.00,42.33 L460.49,42.53 L462.13,41.81 L463.52,41.02 L465.29,40.95 L466.83,40.48 L468.37,40.39 L470.15,40.90 L471.50,43.64 L473.27,41.29 L474.50,39.84 L476.41,39.58 L478.05,43.50 L479.91,39.84 L481.59,40.12 L482.67,42.13 L483.99,38.88 L485.83,38.78 L487.48,40.54 L488.97,40.48 L490.80,38.33 L492.55,40.64 L494.41,38.47 L495.80,39.81 L497.75,40.62 L499.47,42.27 L500.74,38.85 L502.39,38.26 L504.19,38.29 L506.50,38.47 L508.50,40.85 L510.00,38.74 L511.90,36.21 L513.10,42.44 L514.30,36.48 L516.00,39.90 L517.90,47.10 L518.40,37.80" fill="none" stroke="#00ff00" stroke-width="1.6" stroke-linejoin="round" stroke-linecap="round"/>
<rect x="328.80" y="21.25" width="210.00" height="139.75" fill="none" stroke="#000" stroke-width="1.6"/>
<line x1="328.80" y1="161.00" x2="328.80" y2="159.30" stroke="#000" stroke-width="1.3" stroke-linecap="butt"/>
<line x1="358.80" y1="161.00" x2="358.80" y2="158.00" stroke="#000" stroke-width="1.3" stroke-linecap="butt"/>
<line x1="388.80" y1="161.00" x2="388.80" y2="159.30" stroke="#000" stroke-width="1.3" stroke-linecap="butt"/>
<line x1="418.80" y1="161.00" x2="418.80" y2="158.00" stroke="#000" stroke-width="1.3" stroke-linecap="butt"/>
<line x1="448.80" y1="161.00" x2="448.80" y2="159.30" stroke="#000" stroke-width="1.3" stroke-linecap="butt"/>
<line x1="478.80" y1="161.00" x2="478.80" y2="158.00" stroke="#000" stroke-width="1.3" stroke-linecap="butt"/>
<line x1="508.80" y1="161.00" x2="508.80" y2="159.30" stroke="#000" stroke-width="1.3" stroke-linecap="butt"/>
<line x1="538.80" y1="161.00" x2="538.80" y2="158.00" stroke="#000" stroke-width="1.3" stroke-linecap="butt"/>
<line x1="328.80" y1="154.35" x2="331.80" y2="154.35" stroke="#000" stroke-width="1.3" stroke-linecap="butt"/>
<line x1="328.80" y1="137.71" x2="330.50" y2="137.71" stroke="#000" stroke-width="1.3" stroke-linecap="butt"/>
<line x1="328.80" y1="121.07" x2="331.80" y2="121.07" stroke="#000" stroke-width="1.3" stroke-linecap="butt"/>
<line x1="328.80" y1="104.43" x2="330.50" y2="104.43" stroke="#000" stroke-width="1.3" stroke-linecap="butt"/>
<line x1="328.80" y1="87.80" x2="331.80" y2="87.80" stroke="#000" stroke-width="1.3" stroke-linecap="butt"/>
<line x1="328.80" y1="71.16" x2="330.50" y2="71.16" stroke="#000" stroke-width="1.3" stroke-linecap="butt"/>
<line x1="328.80" y1="54.52" x2="331.80" y2="54.52" stroke="#000" stroke-width="1.3" stroke-linecap="butt"/>
<line x1="328.80" y1="37.89" x2="330.50" y2="37.89" stroke="#000" stroke-width="1.3" stroke-linecap="butt"/>
<line x1="328.80" y1="21.25" x2="331.80" y2="21.25" stroke="#000" stroke-width="1.3" stroke-linecap="butt"/>
<rect x="426.60" y="89.20" width="99.10" height="51.00" fill="#fff" stroke="none"/>
<path d="M429.20,139.60 L429.21,139.45 L429.23,139.26 L429.24,139.04 L429.26,138.79 L429.28,138.52 L429.30,138.24 L429.32,137.94 L429.35,137.64 L429.38,137.34 L429.42,137.05 L429.46,136.76 L429.50,136.50 L429.55,136.25 L429.60,135.99 L429.65,135.74 L429.71,135.49 L429.77,135.24 L429.84,134.99 L429.91,134.74 L429.98,134.50 L430.05,134.25 L430.13,134.00 L430.21,133.75 L430.30,133.50 L430.39,133.25 L430.48,133.00 L430.57,132.75 L430.67,132.50 L430.77,132.25 L430.88,132.00 L430.98,131.75 L431.10,131.50 L431.21,131.25 L431.34,131.00 L431.47,130.75 L431.60,130.50 L431.74,130.25 L431.89,130.00 L432.05,129.75 L432.21,129.50 L432.37,129.24 L432.54,128.99 L432.72,128.74 L432.89,128.49 L433.07,128.24 L433.25,127.99 L433.42,127.75 L433.60,127.50 L433.78,127.25 L433.98,126.98 L434.19,126.70 L434.40,126.42 L434.61,126.14 L434.83,125.86 L435.03,125.60 L435.22,125.35 L435.40,125.12 L435.56,124.91 L435.69,124.74 L435.80,124.60" fill="none" stroke="#000" stroke-width="1.9" stroke-linejoin="round" stroke-linecap="round"/>
<path d="M428.90,139.60 L428.91,139.45 L428.93,139.26 L428.94,139.04 L428.96,138.79 L428.98,138.52 L429.00,138.24 L429.02,137.94 L429.05,137.64 L429.08,137.34 L429.12,137.05 L429.16,136.76 L429.20,136.50 L429.25,136.25 L429.30,135.99 L429.35,135.74 L429.40,135.48 L429.46,135.23 L429.53,134.97 L429.59,134.72 L429.66,134.47 L429.74,134.23 L429.82,133.98 L429.91,133.74 L430.00,133.50 L430.10,133.26 L430.20,133.03 L430.31,132.80 L430.43,132.57 L430.55,132.34 L430.68,132.12 L430.80,131.90 L430.94,131.67 L431.07,131.45 L431.21,131.23 L431.36,131.02 L431.50,130.80 L431.65,130.58 L431.80,130.37 L431.95,130.16 L432.11,129.95 L432.27,129.74 L432.43,129.54 L432.60,129.33 L432.77,129.13 L432.95,128.92 L433.13,128.71 L433.31,128.51 L433.50,128.30 L433.70,128.08 L433.93,127.85 L434.17,127.62 L434.42,127.37 L434.67,127.13 L434.93,126.89 L435.17,126.66 L435.40,126.45 L435.62,126.25 L435.81,126.07 L435.97,125.92 L436.10,125.80" fill="none" stroke="#ff0000" stroke-width="1.9" stroke-linejoin="round" stroke-linecap="round"/>
<path d="M428.60,139.60 L428.61,139.45 L428.63,139.26 L428.64,139.04 L428.66,138.79 L428.67,138.52 L428.69,138.24 L428.72,137.94 L428.74,137.64 L428.78,137.34 L428.81,137.05 L428.85,136.76 L428.90,136.50 L428.95,136.25 L429.01,135.99 L429.07,135.73 L429.13,135.48 L429.20,135.22 L429.27,134.97 L429.34,134.72 L429.43,134.47 L429.51,134.22 L429.60,133.98 L429.70,133.74 L429.80,133.50 L429.91,133.27 L430.02,133.04 L430.14,132.81 L430.27,132.58 L430.40,132.36 L430.54,132.14 L430.68,131.92 L430.82,131.71 L430.96,131.50 L431.11,131.29 L431.25,131.09 L431.40,130.90 L431.55,130.71 L431.70,130.53 L431.85,130.35 L432.00,130.18 L432.16,130.01 L432.31,129.84 L432.47,129.68 L432.63,129.52 L432.80,129.36 L432.96,129.21 L433.13,129.05 L433.30,128.90 L433.48,128.74 L433.67,128.58 L433.88,128.41 L434.09,128.25 L434.31,128.08 L434.52,127.93 L434.72,127.77 L434.92,127.63 L435.10,127.50 L435.26,127.38 L435.39,127.28 L435.50,127.20" fill="none" stroke="#00ff00" stroke-width="1.9" stroke-linejoin="round" stroke-linecap="round"/>
<rect x="507.55" y="96.65" width="1.9" height="1.9" fill="#000"/>
<rect x="496.15" y="96.55" width="1.9" height="1.9" fill="#000"/>
<rect x="493.45" y="100.15" width="1.9" height="1.9" fill="#000"/>
<rect x="485.45" y="101.75" width="1.9" height="1.9" fill="#000"/>
<rect x="477.05" y="102.85" width="1.9" height="1.9" fill="#000"/>
<rect x="467.55" y="105.85" width="1.9" height="1.9" fill="#000"/>
<rect x="460.65" y="107.05" width="1.9" height="1.9" fill="#000"/>
<rect x="453.45" y="110.35" width="1.9" height="1.9" fill="#000"/>
<rect x="447.55" y="112.75" width="1.9" height="1.9" fill="#000"/>
<rect x="442.25" y="116.25" width="1.9" height="1.9" fill="#000"/>
<rect x="437.85" y="119.45" width="1.9" height="1.9" fill="#000"/>
<rect x="434.55" y="122.65" width="1.9" height="1.9" fill="#000"/>
<rect x="431.95" y="125.75" width="1.9" height="1.9" fill="#000"/>
<rect x="430.35" y="128.35" width="1.9" height="1.9" fill="#000"/>
<rect x="477.05" y="112.65" width="1.9" height="1.9" fill="#ff0000"/>
<rect x="472.35" y="112.15" width="1.9" height="1.9" fill="#ff0000"/>
<rect x="466.65" y="115.65" width="1.9" height="1.9" fill="#ff0000"/>
<rect x="465.05" y="116.25" width="1.9" height="1.9" fill="#ff0000"/>
<rect x="458.75" y="116.75" width="1.9" height="1.9" fill="#ff0000"/>
<rect x="454.35" y="117.75" width="1.9" height="1.9" fill="#ff0000"/>
<rect x="450.15" y="118.65" width="1.9" height="1.9" fill="#ff0000"/>
<rect x="446.15" y="120.05" width="1.9" height="1.9" fill="#ff0000"/>
<rect x="441.95" y="121.25" width="1.9" height="1.9" fill="#ff0000"/>
<rect x="438.05" y="123.05" width="1.9" height="1.9" fill="#ff0000"/>
<rect x="435.15" y="124.85" width="1.9" height="1.9" fill="#ff0000"/>
<rect x="432.75" y="126.55" width="1.9" height="1.9" fill="#ff0000"/>
<rect x="471.55" y="113.05" width="1.9" height="1.9" fill="#00ff00"/>
<rect x="467.25" y="117.05" width="1.9" height="1.9" fill="#00ff00"/>
<rect x="462.35" y="116.75" width="1.9" height="1.9" fill="#00ff00"/>
<rect x="459.55" y="118.85" width="1.9" height="1.9" fill="#00ff00"/>
<rect x="455.25" y="118.95" width="1.9" height="1.9" fill="#00ff00"/>
<rect x="451.35" y="119.85" width="1.9" height="1.9" fill="#00ff00"/>
<rect x="447.75" y="121.05" width="1.9" height="1.9" fill="#00ff00"/>
<rect x="443.95" y="122.45" width="1.9" height="1.9" fill="#00ff00"/>
<rect x="440.15" y="123.65" width="1.9" height="1.9" fill="#00ff00"/>
<rect x="436.85" y="125.05" width="1.9" height="1.9" fill="#00ff00"/>
<rect x="433.95" y="126.55" width="1.9" height="1.9" fill="#00ff00"/>
<rect x="426.60" y="89.20" width="99.10" height="51.00" fill="none" stroke="#1a1a1a" stroke-width="1.05"/>
<line x1="428.54" y1="140.20" x2="428.54" y2="138.40" stroke="#000" stroke-width="0.8" stroke-linecap="butt"/>
<text transform="translate(428.54,145.60) scale(1.2,1)" font-size="4.9" font-weight="bold" text-anchor="middle" fill="#000" stroke="#000" stroke-width="0.12">0</text>
<line x1="438.26" y1="140.20" x2="438.26" y2="139.10" stroke="#000" stroke-width="0.8" stroke-linecap="butt"/>
<line x1="447.97" y1="140.20" x2="447.97" y2="138.40" stroke="#000" stroke-width="0.8" stroke-linecap="butt"/>
<text transform="translate(447.97,145.60) scale(1.2,1)" font-size="4.9" font-weight="bold" text-anchor="middle" fill="#000" stroke="#000" stroke-width="0.12">10000</text>
<line x1="457.69" y1="140.20" x2="457.69" y2="139.10" stroke="#000" stroke-width="0.8" stroke-linecap="butt"/>
<line x1="467.41" y1="140.20" x2="467.41" y2="138.40" stroke="#000" stroke-width="0.8" stroke-linecap="butt"/>
<text transform="translate(467.41,145.60) scale(1.2,1)" font-size="4.9" font-weight="bold" text-anchor="middle" fill="#000" stroke="#000" stroke-width="0.12">20000</text>
<line x1="477.12" y1="140.20" x2="477.12" y2="139.10" stroke="#000" stroke-width="0.8" stroke-linecap="butt"/>
<line x1="486.84" y1="140.20" x2="486.84" y2="138.40" stroke="#000" stroke-width="0.8" stroke-linecap="butt"/>
<text transform="translate(486.84,145.60) scale(1.2,1)" font-size="4.9" font-weight="bold" text-anchor="middle" fill="#000" stroke="#000" stroke-width="0.12">30000</text>
<line x1="496.55" y1="140.20" x2="496.55" y2="139.10" stroke="#000" stroke-width="0.8" stroke-linecap="butt"/>
<line x1="506.27" y1="140.20" x2="506.27" y2="138.40" stroke="#000" stroke-width="0.8" stroke-linecap="butt"/>
<text transform="translate(506.27,145.60) scale(1.2,1)" font-size="4.9" font-weight="bold" text-anchor="middle" fill="#000" stroke="#000" stroke-width="0.12">40000</text>
<line x1="515.98" y1="140.20" x2="515.98" y2="139.10" stroke="#000" stroke-width="0.8" stroke-linecap="butt"/>
<line x1="525.70" y1="140.20" x2="525.70" y2="138.40" stroke="#000" stroke-width="0.8" stroke-linecap="butt"/>
<text transform="translate(525.70,145.60) scale(1.2,1)" font-size="4.9" font-weight="bold" text-anchor="middle" fill="#000" stroke="#000" stroke-width="0.12">50000</text>
<line x1="426.60" y1="138.55" x2="428.40" y2="138.55" stroke="#000" stroke-width="0.8" stroke-linecap="butt"/>
<text transform="translate(424.60,140.25) scale(1.2,1)" font-size="4.9" font-weight="bold" text-anchor="end" fill="#000" stroke="#000" stroke-width="0.12">0</text>
<line x1="426.60" y1="130.33" x2="427.70" y2="130.33" stroke="#000" stroke-width="0.8" stroke-linecap="butt"/>
<line x1="426.60" y1="122.10" x2="428.40" y2="122.10" stroke="#000" stroke-width="0.8" stroke-linecap="butt"/>
<text transform="translate(424.60,123.80) scale(1.2,1)" font-size="4.9" font-weight="bold" text-anchor="end" fill="#000" stroke="#000" stroke-width="0.12">10000</text>
<line x1="426.60" y1="113.88" x2="427.70" y2="113.88" stroke="#000" stroke-width="0.8" stroke-linecap="butt"/>
<line x1="426.60" y1="105.65" x2="428.40" y2="105.65" stroke="#000" stroke-width="0.8" stroke-linecap="butt"/>
<text transform="translate(424.60,107.35) scale(1.2,1)" font-size="4.9" font-weight="bold" text-anchor="end" fill="#000" stroke="#000" stroke-width="0.12">20000</text>
<line x1="426.60" y1="97.43" x2="427.70" y2="97.43" stroke="#000" stroke-width="0.8" stroke-linecap="butt"/>
<line x1="426.60" y1="89.20" x2="428.40" y2="89.20" stroke="#000" stroke-width="0.8" stroke-linecap="butt"/>
<text transform="translate(424.60,90.90) scale(1.2,1)" font-size="4.9" font-weight="bold" text-anchor="end" fill="#000" stroke="#000" stroke-width="0.12">30000</text>
<text transform="translate(478.55,154.30) scale(1.2,1)" font-size="6.4" font-weight="normal" text-anchor="middle" fill="#000" stroke="#000" stroke-width="0.12">Z' (&#937;.cm<tspan font-size='3.9' dy='-2.3'>-2</tspan><tspan dy='2.3'>)</tspan></text>
<text transform="translate(401.10,115.20) scale(1.2,1) rotate(-90)" font-size="6.4" font-weight="normal" text-anchor="middle" fill="#000" stroke="#000" stroke-width="0.12">Z'' (&#937;.cm<tspan font-size='3.9' dy='-2.0'>-2</tspan><tspan dy='2.0'>)</tspan></text>
<text transform="translate(1.20,225.00) scale(1.24,1)" font-size="12.2" font-weight="normal" text-anchor="start" fill="#000" stroke="#000" stroke-width="0.15">(c)</text>
<text transform="translate(96.00,225.30) scale(1.228,1)" font-size="8.6" font-weight="normal" text-anchor="start" fill="#000" stroke="#000" stroke-width="0.12">IH_IrO<tspan font-size="6" dy="2.2">2</tspan><tspan dy="-2.2" dx="0.9"> _350&#176;C_1:28</tspan></text>
<text transform="translate(33.10,365.35) scale(1.22,1)" font-size="6.6" font-weight="bold" text-anchor="end" fill="#000" stroke="#000" stroke-width="0.3">0</text>
<text transform="translate(33.10,332.09) scale(1.22,1)" font-size="6.6" font-weight="bold" text-anchor="end" fill="#000" stroke="#000" stroke-width="0.3">10</text>
<text transform="translate(33.10,298.82) scale(1.22,1)" font-size="6.6" font-weight="bold" text-anchor="end" fill="#000" stroke="#000" stroke-width="0.3">20</text>
<text transform="translate(33.10,265.56) scale(1.22,1)" font-size="6.6" font-weight="bold" text-anchor="end" fill="#000" stroke="#000" stroke-width="0.3">30</text>
<text transform="translate(33.10,232.30) scale(1.22,1)" font-size="6.6" font-weight="bold" text-anchor="end" fill="#000" stroke="#000" stroke-width="0.3">40</text>
<text transform="translate(66.80,378.80) scale(1.18,1)" font-size="6.5" font-weight="bold" text-anchor="middle" fill="#000" stroke="#000" stroke-width="0.3">1.4</text>
<text transform="translate(126.80,378.80) scale(1.18,1)" font-size="6.5" font-weight="bold" text-anchor="middle" fill="#000" stroke="#000" stroke-width="0.3">1.6</text>
<text transform="translate(186.80,378.80) scale(1.18,1)" font-size="6.5" font-weight="bold" text-anchor="middle" fill="#000" stroke="#000" stroke-width="0.3">1.8</text>
<text transform="translate(246.80,378.80) scale(1.18,1)" font-size="6.5" font-weight="bold" text-anchor="middle" fill="#000" stroke="#000" stroke-width="0.3">2.0</text>
<text transform="translate(49.90,392.10) scale(1.228,1)" font-size="10.0" font-weight="normal" text-anchor="start" fill="#000" stroke="#000" stroke-width="0.15">IR corrected potential (V) <tspan font-style="italic">vs.</tspan> RHE</text>
<text transform="translate(14.00,301.80) scale(1.15,1) rotate(-90)" font-size="10.25" font-weight="normal" text-anchor="middle" fill="#000" stroke="#000" stroke-width="0.15">Current density (mA.cm<tspan font-size="6.6" dy="-5.0">-2</tspan><tspan dy="5.0">)</tspan></text>
<line x1="41.90" y1="237.00" x2="60.90" y2="237.00" stroke="#000" stroke-width="1.5" stroke-linecap="butt"/>
<text transform="translate(62.70,239.50) scale(1.22,1)" font-size="6.7" font-weight="normal" text-anchor="start" fill="#111" stroke="#111" stroke-width="0.15">Initial</text>
<line x1="41.90" y1="245.00" x2="60.90" y2="245.00" stroke="#ff0000" stroke-width="1.5" stroke-linecap="butt"/>
<text transform="translate(62.70,247.50) scale(1.22,1)" font-size="6.7" font-weight="normal" text-anchor="start" fill="#111" stroke="#111" stroke-width="0.15">1200 cycles</text>
<line x1="41.90" y1="253.00" x2="60.90" y2="253.00" stroke="#00ff00" stroke-width="1.5" stroke-linecap="butt"/>
<text transform="translate(62.70,255.50) scale(1.22,1)" font-size="6.7" font-weight="normal" text-anchor="start" fill="#111" stroke="#111" stroke-width="0.15">3000 cycles</text>
<path d="M37.30,362.90 L38.18,362.87 L39.31,362.82 L40.64,362.78 L42.14,362.72 L43.77,362.66 L45.47,362.60 L47.22,362.53 L48.96,362.47 L50.65,362.40 L52.24,362.33 L53.71,362.26 L55.00,362.20 L56.15,362.14 L57.24,362.08 L58.26,362.02 L59.23,361.97 L60.15,361.91 L61.02,361.85 L61.87,361.79 L62.69,361.72 L63.48,361.65 L64.26,361.57 L65.03,361.49 L65.80,361.40 L66.56,361.30 L67.30,361.20 L68.02,361.10 L68.71,361.00 L69.39,360.89 L70.04,360.77 L70.67,360.65 L71.28,360.51 L71.87,360.38 L72.43,360.23 L72.98,360.07 L73.50,359.90 L74.00,359.72 L74.46,359.52 L74.91,359.32 L75.32,359.10 L75.72,358.88 L76.09,358.64 L76.45,358.41 L76.80,358.17 L77.14,357.92 L77.46,357.68 L77.78,357.44 L78.10,357.20 L78.41,356.96 L78.70,356.73 L78.98,356.49 L79.25,356.25 L79.51,356.01 L79.76,355.76 L79.99,355.51 L80.23,355.26 L80.45,355.01 L80.67,354.74 L80.89,354.48 L81.10,354.20 L81.31,353.92 L81.51,353.63 L81.70,353.34 L81.89,353.05 L82.07,352.75 L82.25,352.44 L82.42,352.13 L82.59,351.82 L82.75,351.50 L82.90,351.17 L83.05,350.84 L83.20,350.50 L83.34,350.16 L83.48,349.81 L83.60,349.46 L83.73,349.10 L83.84,348.74 L83.96,348.37 L84.07,347.99 L84.17,347.61 L84.28,347.22 L84.39,346.82 L84.49,346.42 L84.60,346.00 L84.71,345.59 L84.81,345.19 L84.91,344.79 L85.01,344.39 L85.11,343.99 L85.21,343.57 L85.31,343.13 L85.41,342.66 L85.50,342.16 L85.60,341.62 L85.70,341.04 L85.80,340.40 L85.90,339.70 L86.00,338.94 L86.10,338.12 L86.20,337.27 L86.30,336.38 L86.40,335.46 L86.50,334.53 L86.60,333.60 L86.70,332.67 L86.80,331.75 L86.90,330.86 L87.00,330.00 L87.10,329.18 L87.20,328.39 L87.29,327.63 L87.39,326.89 L87.48,326.15 L87.57,325.40 L87.67,324.64 L87.77,323.84 L87.87,323.02 L87.98,322.14 L88.09,321.20 L88.20,320.20 L88.32,319.11 L88.44,317.92 L88.57,316.66 L88.71,315.34 L88.84,313.99 L88.98,312.61 L89.12,311.24 L89.26,309.88 L89.40,308.56 L89.53,307.29 L89.67,306.10 L89.80,305.00 L89.93,303.97 L90.06,302.97 L90.19,302.02 L90.31,301.10 L90.44,300.21 L90.57,299.36 L90.69,298.55 L90.82,297.77 L90.94,297.03 L91.06,296.32 L91.18,295.64 L91.30,295.00 L91.42,294.41 L91.53,293.87 L91.64,293.38 L91.75,292.93 L91.86,292.51 L91.97,292.12 L92.08,291.76 L92.18,291.41 L92.29,291.06 L92.39,290.72 L92.50,290.37 L92.60,290.00 L92.70,289.63 L92.80,289.28 L92.90,288.93 L92.99,288.59 L93.08,288.26 L93.17,287.94 L93.27,287.62 L93.37,287.30 L93.47,286.98 L93.57,286.66 L93.68,286.33 L93.80,286.00 L93.92,285.67 L94.05,285.33 L94.18,285.00 L94.31,284.66 L94.45,284.32 L94.59,283.99 L94.74,283.65 L94.89,283.32 L95.04,282.99 L95.19,282.66 L95.34,282.33 L95.50,282.00 L95.66,281.68 L95.82,281.35 L95.98,281.03 L96.14,280.70 L96.31,280.38 L96.48,280.06 L96.65,279.74 L96.83,279.43 L97.01,279.12 L97.20,278.81 L97.40,278.50 L97.60,278.20 L97.81,277.90 L98.02,277.61 L98.24,277.32 L98.47,277.03 L98.70,276.74 L98.93,276.46 L99.17,276.18 L99.42,275.90 L99.68,275.63 L99.94,275.35 L100.22,275.08 L100.50,274.80 L100.80,274.52 L101.11,274.24 L101.43,273.96 L101.77,273.68 L102.11,273.40 L102.46,273.13 L102.81,272.85 L103.16,272.59 L103.51,272.33 L103.85,272.07 L104.18,271.83 L104.50,271.60 L104.81,271.38 L105.11,271.17 L105.40,270.97 L105.69,270.78 L105.97,270.59 L106.25,270.41 L106.53,270.24 L106.81,270.07 L107.10,269.90 L107.39,269.73 L107.69,269.57 L108.00,269.40 L108.31,269.24 L108.61,269.08 L108.92,268.93 L109.22,268.79 L109.53,268.64 L109.84,268.50 L110.17,268.36 L110.50,268.21 L110.85,268.07 L111.21,267.92 L111.60,267.76 L112.00,267.60 L112.43,267.43 L112.87,267.26 L113.34,267.08 L113.81,266.90 L114.31,266.72 L114.81,266.53 L115.33,266.34 L115.85,266.16 L116.38,265.97 L116.92,265.78 L117.46,265.59 L118.00,265.40 L118.54,265.21 L119.07,265.03 L119.61,264.85 L120.15,264.66 L120.69,264.48 L121.25,264.29 L121.82,264.11 L122.41,263.91 L123.02,263.72 L123.65,263.52 L124.31,263.31 L125.00,263.10 L125.73,262.88 L126.49,262.65 L127.29,262.41 L128.11,262.16 L128.95,261.91 L129.81,261.66 L130.68,261.40 L131.56,261.15 L132.43,260.90 L133.30,260.66 L134.16,260.43 L135.00,260.20 L135.82,259.98 L136.61,259.77 L137.38,259.57 L138.15,259.37 L138.91,259.18 L139.69,258.99 L140.48,258.80 L141.30,258.60 L142.15,258.41 L143.04,258.21 L143.99,258.01 L145.00,257.80 L146.06,257.59 L147.15,257.37 L148.28,257.14 L149.44,256.92 L150.64,256.69 L151.88,256.46 L153.14,256.23 L154.44,256.00 L155.78,255.78 L157.15,255.55 L158.56,255.32 L160.00,255.10 L161.49,254.88 L163.04,254.65 L164.65,254.41 L166.30,254.18 L167.98,253.95 L169.69,253.72 L171.41,253.49 L173.15,253.27 L174.88,253.06 L176.61,252.86 L178.32,252.67 L180.00,252.50 L181.66,252.34 L183.32,252.19 L184.97,252.05 L186.62,251.92 L188.27,251.80 L189.92,251.69 L191.57,251.58 L193.24,251.48 L194.91,251.38 L196.59,251.28 L198.29,251.19 L200.00,251.10 L201.80,251.01 L203.72,250.92 L205.00,250.06 L207.41,251.22 L209.23,250.96 L210.75,249.63 L212.57,249.75 L214.70,250.36 L216.64,250.91 L218.53,249.95 L220.50,250.83 L221.50,251.90" fill="none" stroke="#000" stroke-width="1.6" stroke-linejoin="round" stroke-linecap="round"/>
<path d="M37.30,362.90 L38.18,362.87 L39.31,362.82 L40.64,362.78 L42.14,362.72 L43.77,362.66 L45.47,362.60 L47.22,362.53 L48.96,362.47 L50.65,362.40 L52.24,362.33 L53.71,362.26 L55.00,362.20 L56.15,362.14 L57.24,362.08 L58.26,362.02 L59.23,361.97 L60.15,361.91 L61.02,361.85 L61.87,361.79 L62.69,361.72 L63.48,361.65 L64.26,361.57 L65.03,361.49 L65.83,361.40 L66.62,361.30 L67.39,361.20 L68.14,361.10 L68.87,360.99 L69.58,360.88 L70.27,360.76 L70.94,360.63 L71.59,360.50 L72.22,360.36 L72.83,360.21 L73.43,360.05 L74.01,359.87 L74.56,359.69 L75.09,359.49 L75.60,359.28 L76.08,359.06 L76.55,358.83 L77.00,358.60 L77.43,358.36 L77.86,358.11 L78.27,357.86 L78.67,357.62 L79.07,357.37 L79.46,357.13 L79.85,356.89 L80.21,356.65 L80.57,356.40 L80.91,356.16 L81.25,355.92 L81.57,355.67 L81.89,355.42 L82.13,355.16 L82.35,354.91 L82.57,354.64 L82.79,354.38 L83.00,354.10 L83.21,353.82 L83.41,353.53 L83.60,353.24 L83.79,352.95 L83.97,352.65 L84.15,352.34 L84.32,352.03 L84.49,351.72 L84.65,351.40 L84.80,351.07 L84.95,350.74 L85.10,350.40 L85.24,350.06 L85.38,349.71 L85.50,349.36 L85.63,349.00 L85.74,348.64 L85.86,348.27 L85.97,347.89 L86.07,347.51 L86.18,347.12 L86.29,346.72 L86.39,346.32 L86.50,345.90 L86.61,345.49 L86.71,345.09 L86.81,344.69 L86.91,344.29 L87.01,343.89 L87.11,343.47 L87.21,343.03 L87.31,342.56 L87.40,342.06 L87.50,341.52 L87.60,340.94 L87.70,340.30 L87.80,339.60 L87.90,338.84 L88.00,338.02 L88.10,337.17 L88.20,336.28 L88.30,335.36 L88.40,334.43 L88.50,333.50 L88.60,332.57 L88.70,331.65 L88.80,330.76 L88.90,329.90 L89.00,329.08 L89.10,328.29 L89.19,327.53 L89.29,326.79 L89.38,326.05 L89.47,325.30 L89.57,324.54 L89.67,323.74 L89.77,322.92 L89.88,322.04 L89.99,321.10 L90.10,320.10 L90.22,319.01 L90.34,317.82 L90.47,316.56 L90.61,315.24 L90.74,313.89 L90.88,312.51 L91.02,311.14 L91.16,309.78 L91.30,308.46 L91.43,307.19 L91.57,306.00 L91.70,304.90 L91.83,303.87 L91.96,302.87 L92.09,301.92 L92.21,301.00 L92.34,300.11 L92.47,299.26 L92.59,298.45 L92.72,297.67 L92.84,296.93 L92.96,296.22 L93.08,295.54 L93.20,294.90 L93.32,294.31 L93.43,293.77 L93.54,293.27 L93.65,292.83 L93.76,292.41 L93.87,292.02 L93.98,291.66 L94.08,291.31 L94.19,290.96 L94.29,290.62 L94.40,290.27 L94.50,289.90 L94.60,289.53 L94.70,289.18 L94.80,288.83 L94.89,288.49 L94.98,288.16 L95.07,287.84 L95.17,287.52 L95.27,287.20 L95.37,286.88 L95.47,286.56 L95.58,286.23 L95.70,285.90 L95.82,285.57 L95.95,285.23 L96.08,284.90 L96.21,284.56 L96.35,284.22 L96.49,283.89 L96.64,283.55 L96.79,283.22 L96.94,282.89 L97.09,282.56 L97.24,282.23 L97.40,281.90 L97.56,281.58 L97.72,281.25 L97.88,280.93 L98.04,280.60 L98.21,280.28 L98.38,279.96 L98.55,279.64 L98.73,279.33 L98.91,279.02 L99.10,278.71 L99.30,278.40 L99.50,278.10 L99.71,277.80 L99.92,277.51 L100.14,277.22 L100.37,276.93 L100.60,276.64 L100.83,276.36 L101.07,276.08 L101.32,275.80 L101.58,275.53 L101.84,275.25 L102.12,274.98 L102.40,274.70 L102.70,274.42 L103.01,274.14 L103.33,273.86 L103.67,273.58 L104.01,273.30 L104.36,273.03 L104.71,272.75 L105.06,272.49 L105.41,272.23 L105.75,271.97 L106.08,271.73 L106.40,271.50 L106.71,271.28 L107.01,271.07 L107.30,270.87 L107.59,270.68 L107.87,270.49 L108.15,270.31 L108.43,270.14 L108.71,269.97 L109.00,269.80 L109.29,269.63 L109.59,269.47 L109.90,269.30 L110.21,269.14 L110.51,268.98 L110.82,268.83 L111.12,268.69 L111.43,268.54 L111.74,268.40 L112.07,268.26 L112.40,268.11 L112.75,267.97 L113.11,267.82 L113.50,267.66 L113.90,267.50 L114.33,267.33 L114.77,267.16 L115.24,266.98 L115.71,266.80 L116.21,266.62 L116.71,266.43 L117.23,266.24 L117.75,266.06 L118.28,265.87 L118.82,265.68 L119.36,265.49 L119.90,265.30 L120.44,265.11 L120.97,264.93 L121.51,264.75 L122.05,264.56 L122.59,264.38 L123.15,264.19 L123.72,264.01 L124.31,263.81 L124.92,263.62 L125.55,263.42 L126.21,263.21 L126.90,263.00 L127.63,262.78 L128.39,262.55 L129.19,262.31 L130.01,262.06 L130.85,261.81 L131.71,261.56 L132.58,261.30 L133.46,261.05 L134.33,260.80 L135.20,260.56 L136.06,260.33 L136.90,260.10 L137.72,259.88 L138.51,259.67 L139.28,259.47 L140.05,259.27 L140.81,259.08 L141.59,258.89 L142.38,258.70 L143.20,258.50 L144.05,258.31 L144.94,258.11 L145.89,257.91 L146.90,257.70 L147.96,257.49 L149.05,257.27 L150.18,257.04 L151.34,256.82 L152.54,256.59 L153.78,256.36 L155.04,256.13 L156.34,255.90 L157.68,255.68 L159.05,255.45 L160.46,255.22 L161.90,255.00 L163.39,254.78 L164.94,254.55 L166.55,254.31 L168.20,254.08 L169.88,253.85 L171.59,253.62 L173.31,253.39 L175.05,253.17 L176.00,254.32 L177.62,253.60 L179.38,252.33 L180.89,253.01 L182.27,251.45 L184.04,252.95 L185.13,252.06 L186.96,250.99 L188.31,252.47 L190.22,252.37 L192.00,253.10 L193.46,250.93 L194.95,251.93 L196.78,252.64 L198.01,251.37 L199.74,250.87 L201.45,252.05 L203.24,252.45 L205.09,251.75 L206.55,252.38 L207.95,251.33 L209.64,250.31 L211.14,250.58 L212.38,250.29 L214.00,251.19 L215.50,251.66 L216.50,253.42 L218.00,251.39 L219.00,252.39" fill="none" stroke="#ff0000" stroke-width="1.6" stroke-linejoin="round" stroke-linecap="round"/>
<path d="M37.30,362.90 L38.18,362.87 L39.31,362.82 L40.64,362.78 L42.14,362.72 L43.77,362.66 L45.47,362.60 L47.22,362.53 L48.96,362.47 L50.65,362.40 L52.24,362.33 L53.71,362.26 L55.00,362.20 L56.15,362.14 L57.24,362.08 L58.26,362.02 L59.23,361.97 L60.15,361.91 L61.02,361.85 L61.87,361.79 L62.69,361.72 L63.48,361.65 L64.26,361.57 L65.04,361.49 L65.87,361.40 L66.69,361.31 L67.49,361.22 L68.27,361.12 L69.04,361.02 L69.78,360.92 L70.51,360.81 L71.22,360.69 L71.92,360.56 L72.60,360.43 L73.26,360.29 L73.91,360.14 L74.54,359.98 L75.16,359.81 L75.75,359.62 L76.32,359.43 L76.88,359.22 L77.42,359.01 L77.95,358.79 L78.46,358.56 L78.97,358.33 L79.46,358.10 L79.94,357.87 L80.42,357.64 L80.89,357.41 L81.36,357.19 L81.81,356.96 L82.24,356.74 L82.67,356.51 L83.08,356.28 L83.49,356.05 L83.89,355.81 L84.13,355.56 L84.35,355.31 L84.57,355.04 L84.79,354.78 L85.00,354.50 L85.21,354.22 L85.41,353.93 L85.60,353.64 L85.79,353.35 L85.97,353.05 L86.15,352.74 L86.32,352.43 L86.49,352.12 L86.65,351.80 L86.80,351.47 L86.95,351.14 L87.10,350.80 L87.24,350.46 L87.38,350.11 L87.50,349.76 L87.63,349.40 L87.74,349.04 L87.86,348.67 L87.97,348.29 L88.07,347.91 L88.18,347.52 L88.29,347.12 L88.39,346.72 L88.50,346.30 L88.61,345.89 L88.71,345.49 L88.81,345.09 L88.91,344.69 L89.01,344.29 L89.11,343.87 L89.21,343.43 L89.31,342.96 L89.40,342.46 L89.50,341.92 L89.60,341.34 L89.70,340.70 L89.80,340.00 L89.90,339.24 L90.00,338.42 L90.10,337.57 L90.20,336.68 L90.30,335.76 L90.40,334.83 L90.50,333.90 L90.60,332.97 L90.70,332.05 L90.80,331.16 L90.90,330.30 L91.00,329.48 L91.10,328.69 L91.19,327.93 L91.29,327.19 L91.38,326.45 L91.47,325.70 L91.57,324.94 L91.67,324.14 L91.77,323.32 L91.88,322.44 L91.99,321.50 L92.10,320.50 L92.22,319.41 L92.34,318.22 L92.47,316.96 L92.61,315.64 L92.74,314.29 L92.88,312.91 L93.02,311.54 L93.16,310.18 L93.30,308.86 L93.43,307.59 L93.57,306.40 L93.70,305.30 L93.83,304.27 L93.96,303.27 L94.09,302.32 L94.21,301.40 L94.34,300.51 L94.47,299.66 L94.59,298.85 L94.72,298.07 L94.84,297.33 L94.96,296.62 L95.08,295.94 L95.20,295.30 L95.32,294.71 L95.43,294.17 L95.54,293.68 L95.65,293.23 L95.76,292.81 L95.87,292.43 L95.98,292.06 L96.08,291.71 L96.19,291.36 L96.29,291.02 L96.40,290.67 L96.50,290.30 L96.60,289.93 L96.70,289.58 L96.80,289.23 L96.89,288.89 L96.98,288.56 L97.07,288.24 L97.17,287.92 L97.27,287.60 L97.37,287.28 L97.47,286.96 L97.58,286.63 L97.70,286.30 L97.82,285.97 L97.95,285.63 L98.08,285.30 L98.21,284.96 L98.35,284.62 L98.49,284.29 L98.64,283.95 L98.79,283.62 L98.94,283.29 L99.09,282.96 L99.24,282.63 L99.40,282.30 L99.56,281.98 L99.72,281.65 L99.88,281.33 L100.04,281.00 L100.21,280.68 L100.38,280.36 L100.55,280.04 L100.73,279.73 L100.91,279.42 L101.10,279.11 L101.30,278.80 L101.50,278.50 L101.71,278.20 L101.92,277.91 L102.14,277.62 L102.37,277.33 L102.60,277.04 L102.83,276.76 L103.07,276.48 L103.32,276.20 L103.58,275.93 L103.84,275.65 L104.12,275.38 L104.40,275.10 L104.70,274.82 L105.01,274.54 L105.33,274.26 L105.67,273.98 L106.01,273.70 L106.36,273.43 L106.71,273.15 L107.06,272.89 L107.41,272.63 L107.75,272.37 L108.08,272.13 L108.40,271.90 L108.71,271.68 L109.01,271.47 L109.30,271.27 L109.59,271.08 L109.87,270.89 L110.15,270.71 L110.43,270.54 L110.71,270.37 L111.00,270.20 L111.29,270.03 L111.59,269.87 L111.90,269.70 L112.21,269.54 L112.51,269.38 L112.82,269.23 L113.12,269.09 L113.43,268.94 L113.74,268.80 L114.07,268.66 L114.40,268.51 L114.75,268.37 L115.11,268.22 L115.50,268.06 L115.90,267.90 L116.33,267.73 L116.77,267.56 L117.24,267.38 L117.71,267.20 L118.21,267.02 L118.71,266.83 L119.23,266.64 L119.75,266.46 L120.28,266.27 L120.82,266.08 L121.36,265.89 L121.90,265.70 L122.44,265.51 L122.97,265.33 L123.51,265.15 L124.05,264.96 L124.59,264.78 L125.15,264.59 L125.72,264.41 L126.31,264.21 L126.92,264.02 L127.55,263.82 L128.21,263.61 L128.90,263.40 L129.63,263.18 L130.39,262.95 L131.19,262.71 L132.01,262.46 L132.85,262.21 L133.71,261.96 L134.58,261.70 L135.46,261.45 L136.33,261.20 L137.20,260.96 L138.06,260.73 L138.90,260.50 L139.72,260.28 L140.51,260.07 L141.28,259.87 L142.05,259.67 L142.81,259.48 L143.59,259.29 L144.38,259.10 L145.20,258.90 L146.05,258.71 L146.94,258.51 L147.89,258.31 L148.90,258.10 L149.96,257.89 L151.05,257.67 L152.18,257.44 L153.34,257.22 L154.54,256.99 L155.78,256.76 L157.04,256.53 L158.34,256.30 L159.68,256.08 L161.05,255.85 L162.46,255.62 L163.90,255.40 L165.39,255.18 L166.94,254.95 L168.55,254.71 L170.20,254.48 L171.88,254.25 L173.59,254.02 L174.00,254.19 L175.85,254.76 L177.28,252.54 L178.51,254.10 L179.97,253.80 L181.66,254.00 L183.37,253.41 L185.12,252.47 L186.73,251.88 L188.46,253.40 L190.11,252.83 L191.59,251.83 L193.04,251.11 L194.25,253.19 L195.47,252.47 L196.56,252.83 L198.35,252.54 L199.66,252.83 L201.20,252.14 L202.96,251.49 L204.22,251.56 L205.81,250.36 L207.73,252.09 L208.80,251.00 L210.73,251.32 L212.26,250.96 L213.63,250.35 L214.85,251.86 L216.08,251.13 L217.32,251.84 L218.52,250.84 L219.80,252.10 L221.25,252.09" fill="none" stroke="#00ff00" stroke-width="1.6" stroke-linejoin="round" stroke-linecap="round"/>
<rect x="36.80" y="230.30" width="210.00" height="139.70" fill="none" stroke="#000" stroke-width="1.6"/>
<line x1="36.80" y1="370.00" x2="36.80" y2="368.30" stroke="#000" stroke-width="1.3" stroke-linecap="butt"/>
<line x1="66.80" y1="370.00" x2="66.80" y2="367.00" stroke="#000" stroke-width="1.3" stroke-linecap="butt"/>
<line x1="96.80" y1="370.00" x2="96.80" y2="368.30" stroke="#000" stroke-width="1.3" stroke-linecap="butt"/>
<line x1="126.80" y1="370.00" x2="126.80" y2="367.00" stroke="#000" stroke-width="1.3" stroke-linecap="butt"/>
<line x1="156.80" y1="370.00" x2="156.80" y2="368.30" stroke="#000" stroke-width="1.3" stroke-linecap="butt"/>
<line x1="186.80" y1="370.00" x2="186.80" y2="367.00" stroke="#000" stroke-width="1.3" stroke-linecap="butt"/>
<line x1="216.80" y1="370.00" x2="216.80" y2="368.30" stroke="#000" stroke-width="1.3" stroke-linecap="butt"/>
<line x1="246.80" y1="370.00" x2="246.80" y2="367.00" stroke="#000" stroke-width="1.3" stroke-linecap="butt"/>
<line x1="36.80" y1="363.35" x2="39.80" y2="363.35" stroke="#000" stroke-width="1.3" stroke-linecap="butt"/>
<line x1="36.80" y1="346.72" x2="38.50" y2="346.72" stroke="#000" stroke-width="1.3" stroke-linecap="butt"/>
<line x1="36.80" y1="330.09" x2="39.80" y2="330.09" stroke="#000" stroke-width="1.3" stroke-linecap="butt"/>
<line x1="36.80" y1="313.45" x2="38.50" y2="313.45" stroke="#000" stroke-width="1.3" stroke-linecap="butt"/>
<line x1="36.80" y1="296.82" x2="39.80" y2="296.82" stroke="#000" stroke-width="1.3" stroke-linecap="butt"/>
<line x1="36.80" y1="280.19" x2="38.50" y2="280.19" stroke="#000" stroke-width="1.3" stroke-linecap="butt"/>
<line x1="36.80" y1="263.56" x2="39.80" y2="263.56" stroke="#000" stroke-width="1.3" stroke-linecap="butt"/>
<line x1="36.80" y1="246.93" x2="38.50" y2="246.93" stroke="#000" stroke-width="1.3" stroke-linecap="butt"/>
<line x1="36.80" y1="230.30" x2="39.80" y2="230.30" stroke="#000" stroke-width="1.3" stroke-linecap="butt"/>
<rect x="134.10" y="298.40" width="99.80" height="51.60" fill="#fff" stroke="none"/>
<path d="M140.80,347.30 L140.83,347.23 L140.87,347.15 L140.91,347.05 L140.95,346.94 L141.00,346.82 L141.06,346.69 L141.12,346.56 L141.18,346.43 L141.25,346.29 L141.33,346.16 L141.41,346.02 L141.50,345.90 L141.59,345.78 L141.69,345.65 L141.80,345.53 L141.91,345.40 L142.03,345.27 L142.15,345.14 L142.28,345.02 L142.41,344.89 L142.55,344.76 L142.69,344.64 L142.84,344.52 L143.00,344.40 L143.16,344.28 L143.33,344.17 L143.50,344.06 L143.68,343.96 L143.87,343.85 L144.06,343.74 L144.25,343.64 L144.45,343.53 L144.66,343.43 L144.87,343.32 L145.08,343.21 L145.30,343.10 L145.52,342.99 L145.75,342.87 L145.98,342.76 L146.22,342.64 L146.46,342.52 L146.71,342.41 L146.96,342.29 L147.22,342.17 L147.48,342.05 L147.75,341.93 L148.02,341.82 L148.30,341.70 L148.58,341.58 L148.86,341.47 L149.15,341.36 L149.43,341.24 L149.73,341.13 L150.03,341.02 L150.33,340.90 L150.64,340.79 L150.97,340.67 L151.30,340.55 L151.64,340.43 L152.00,340.30 L152.39,340.16 L152.82,340.01 L153.28,339.86 L153.76,339.69 L154.24,339.53 L154.73,339.36 L155.21,339.20 L155.66,339.05 L156.07,338.91 L156.44,338.79 L156.75,338.68 L157.00,338.60" fill="none" stroke="#000" stroke-width="1.9" stroke-linejoin="round" stroke-linecap="round"/>
<path d="M140.60,347.30 L140.63,347.22 L140.65,347.12 L140.69,347.01 L140.72,346.88 L140.76,346.74 L140.81,346.59 L140.86,346.44 L140.91,346.29 L140.97,346.13 L141.04,345.98 L141.12,345.83 L141.20,345.70 L141.29,345.57 L141.39,345.44 L141.49,345.32 L141.60,345.19 L141.72,345.06 L141.84,344.94 L141.97,344.81 L142.11,344.69 L142.25,344.57 L142.39,344.44 L142.54,344.32 L142.70,344.20 L142.86,344.08 L143.03,343.96 L143.20,343.84 L143.38,343.73 L143.57,343.61 L143.76,343.49 L143.95,343.38 L144.15,343.26 L144.36,343.15 L144.57,343.03 L144.78,342.92 L145.00,342.80 L145.22,342.68 L145.45,342.57 L145.69,342.45 L145.93,342.33 L146.17,342.22 L146.42,342.10 L146.67,341.98 L146.93,341.87 L147.19,341.75 L147.46,341.63 L147.73,341.52 L148.00,341.40 L148.27,341.28 L148.55,341.17 L148.83,341.06 L149.11,340.94 L149.39,340.83 L149.68,340.72 L149.98,340.60 L150.28,340.49 L150.59,340.37 L150.92,340.25 L151.25,340.13 L151.60,340.00 L151.98,339.86 L152.40,339.71 L152.85,339.56 L153.32,339.39 L153.80,339.23 L154.27,339.06 L154.74,338.90 L155.18,338.75 L155.59,338.61 L155.95,338.49 L156.26,338.38 L156.50,338.30" fill="none" stroke="#ff0000" stroke-width="1.9" stroke-linejoin="round" stroke-linecap="round"/>
<path d="M140.30,347.20 L140.33,347.12 L140.36,347.01 L140.39,346.89 L140.43,346.76 L140.47,346.61 L140.51,346.45 L140.56,346.29 L140.62,346.12 L140.68,345.96 L140.75,345.80 L140.82,345.64 L140.90,345.50 L140.99,345.36 L141.08,345.23 L141.18,345.09 L141.28,344.95 L141.39,344.82 L141.50,344.68 L141.62,344.55 L141.74,344.41 L141.88,344.28 L142.01,344.15 L142.15,344.03 L142.30,343.90 L142.45,343.78 L142.61,343.66 L142.78,343.54 L142.94,343.42 L143.12,343.31 L143.30,343.19 L143.49,343.08 L143.68,342.97 L143.88,342.85 L144.08,342.74 L144.29,342.62 L144.50,342.50 L144.72,342.38 L144.95,342.25 L145.18,342.13 L145.42,342.00 L145.67,341.88 L145.92,341.75 L146.17,341.62 L146.43,341.50 L146.70,341.37 L146.96,341.25 L147.23,341.12 L147.50,341.00 L147.77,340.88 L148.04,340.76 L148.31,340.65 L148.58,340.54 L148.86,340.42 L149.14,340.31 L149.42,340.20 L149.72,340.09 L150.02,339.97 L150.34,339.85 L150.66,339.73 L151.00,339.60 L151.37,339.46 L151.78,339.31 L152.22,339.16 L152.68,338.99 L153.15,338.83 L153.62,338.66 L154.07,338.50 L154.51,338.35 L154.91,338.21 L155.26,338.09 L155.56,337.98 L155.80,337.90" fill="none" stroke="#00ff00" stroke-width="1.9" stroke-linejoin="round" stroke-linecap="round"/>
<rect x="207.95" y="315.85" width="1.9" height="1.9" fill="#000"/>
<rect x="192.65" y="320.05" width="1.9" height="1.9" fill="#000"/>
<rect x="188.55" y="321.65" width="1.9" height="1.9" fill="#000"/>
<rect x="181.25" y="326.25" width="1.9" height="1.9" fill="#000"/>
<rect x="211.25" y="314.45" width="1.9" height="1.9" fill="#ff0000"/>
<rect x="203.05" y="321.35" width="1.9" height="1.9" fill="#ff0000"/>
<rect x="192.55" y="322.25" width="1.9" height="1.9" fill="#ff0000"/>
<rect x="189.45" y="325.85" width="1.9" height="1.9" fill="#ff0000"/>
<rect x="181.75" y="327.65" width="1.9" height="1.9" fill="#ff0000"/>
<rect x="176.65" y="328.95" width="1.9" height="1.9" fill="#ff0000"/>
<rect x="171.25" y="331.65" width="1.9" height="1.9" fill="#ff0000"/>
<rect x="166.65" y="333.15" width="1.9" height="1.9" fill="#ff0000"/>
<rect x="163.05" y="334.05" width="1.9" height="1.9" fill="#ff0000"/>
<rect x="160.35" y="335.35" width="1.9" height="1.9" fill="#ff0000"/>
<rect x="156.35" y="336.75" width="1.9" height="1.9" fill="#ff0000"/>
<rect x="205.75" y="315.85" width="1.9" height="1.9" fill="#00ff00"/>
<rect x="202.15" y="320.45" width="1.9" height="1.9" fill="#00ff00"/>
<rect x="191.25" y="323.35" width="1.9" height="1.9" fill="#00ff00"/>
<rect x="186.65" y="325.55" width="1.9" height="1.9" fill="#00ff00"/>
<rect x="179.45" y="327.65" width="1.9" height="1.9" fill="#00ff00"/>
<rect x="174.85" y="329.55" width="1.9" height="1.9" fill="#00ff00"/>
<rect x="171.25" y="331.35" width="1.9" height="1.9" fill="#00ff00"/>
<rect x="167.55" y="332.75" width="1.9" height="1.9" fill="#00ff00"/>
<rect x="163.55" y="333.95" width="1.9" height="1.9" fill="#00ff00"/>
<rect x="159.55" y="335.05" width="1.9" height="1.9" fill="#00ff00"/>
<rect x="134.10" y="298.40" width="99.80" height="51.60" fill="none" stroke="#1a1a1a" stroke-width="1.05"/>
<line x1="140.34" y1="350.00" x2="140.34" y2="348.20" stroke="#000" stroke-width="0.8" stroke-linecap="butt"/>
<text transform="translate(140.34,355.40) scale(1.2,1)" font-size="4.9" font-weight="bold" text-anchor="middle" fill="#000" stroke="#000" stroke-width="0.12">0</text>
<line x1="155.93" y1="350.00" x2="155.93" y2="348.90" stroke="#000" stroke-width="0.8" stroke-linecap="butt"/>
<line x1="171.53" y1="350.00" x2="171.53" y2="348.20" stroke="#000" stroke-width="0.8" stroke-linecap="butt"/>
<text transform="translate(171.53,355.40) scale(1.2,1)" font-size="4.9" font-weight="bold" text-anchor="middle" fill="#000" stroke="#000" stroke-width="0.12">5000</text>
<line x1="187.12" y1="350.00" x2="187.12" y2="348.90" stroke="#000" stroke-width="0.8" stroke-linecap="butt"/>
<line x1="202.71" y1="350.00" x2="202.71" y2="348.20" stroke="#000" stroke-width="0.8" stroke-linecap="butt"/>
<text transform="translate(202.71,355.40) scale(1.2,1)" font-size="4.9" font-weight="bold" text-anchor="middle" fill="#000" stroke="#000" stroke-width="0.12">10000</text>
<line x1="218.31" y1="350.00" x2="218.31" y2="348.90" stroke="#000" stroke-width="0.8" stroke-linecap="butt"/>
<line x1="233.90" y1="350.00" x2="233.90" y2="348.20" stroke="#000" stroke-width="0.8" stroke-linecap="butt"/>
<text transform="translate(233.90,355.40) scale(1.2,1)" font-size="4.9" font-weight="bold" text-anchor="middle" fill="#000" stroke="#000" stroke-width="0.12">15000</text>
<line x1="134.10" y1="346.77" x2="135.90" y2="346.77" stroke="#000" stroke-width="0.8" stroke-linecap="butt"/>
<text transform="translate(132.10,348.47) scale(1.2,1)" font-size="4.9" font-weight="bold" text-anchor="end" fill="#000" stroke="#000" stroke-width="0.12">0</text>
<line x1="134.10" y1="338.71" x2="135.20" y2="338.71" stroke="#000" stroke-width="0.8" stroke-linecap="butt"/>
<line x1="134.10" y1="330.65" x2="135.90" y2="330.65" stroke="#000" stroke-width="0.8" stroke-linecap="butt"/>
<text transform="translate(132.10,332.35) scale(1.2,1)" font-size="4.9" font-weight="bold" text-anchor="end" fill="#000" stroke="#000" stroke-width="0.12">5000</text>
<line x1="134.10" y1="322.59" x2="135.20" y2="322.59" stroke="#000" stroke-width="0.8" stroke-linecap="butt"/>
<line x1="134.10" y1="314.52" x2="135.90" y2="314.52" stroke="#000" stroke-width="0.8" stroke-linecap="butt"/>
<text transform="translate(132.10,316.22) scale(1.2,1)" font-size="4.9" font-weight="bold" text-anchor="end" fill="#000" stroke="#000" stroke-width="0.12">10000</text>
<line x1="134.10" y1="306.46" x2="135.20" y2="306.46" stroke="#000" stroke-width="0.8" stroke-linecap="butt"/>
<line x1="134.10" y1="298.40" x2="135.90" y2="298.40" stroke="#000" stroke-width="0.8" stroke-linecap="butt"/>
<text transform="translate(132.10,300.10) scale(1.2,1)" font-size="4.9" font-weight="bold" text-anchor="end" fill="#000" stroke="#000" stroke-width="0.12">15000</text>
<text transform="translate(185.60,364.10) scale(1.2,1)" font-size="6.4" font-weight="normal" text-anchor="middle" fill="#000" stroke="#000" stroke-width="0.12">Z' (&#937;.cm<tspan font-size='3.9' dy='-2.3'>-2</tspan><tspan dy='2.3'>)</tspan></text>
<text transform="translate(111.00,323.20) scale(1.2,1) rotate(-90)" font-size="6.4" font-weight="normal" text-anchor="middle" fill="#000" stroke="#000" stroke-width="0.12">Z'' (&#937;.cm<tspan font-size='3.9' dy='-2.0'>-2</tspan><tspan dy='2.0'>)</tspan></text>
<text transform="translate(293.50,225.70) scale(1.24,1)" font-size="12.2" font-weight="normal" text-anchor="start" fill="#000" stroke="#000" stroke-width="0.15">(d)</text>
<text transform="translate(392.20,225.30) scale(1.228,1)" font-size="8.6" font-weight="normal" text-anchor="start" fill="#000" stroke="#000" stroke-width="0.12">IH_IrO<tspan font-size="6" dy="2.2">2</tspan><tspan dy="-2.2" dx="0.9"> _400&#176;C_1:10</tspan></text>
<text transform="translate(325.10,365.35) scale(1.22,1)" font-size="6.6" font-weight="bold" text-anchor="end" fill="#000" stroke="#000" stroke-width="0.3">0</text>
<text transform="translate(325.10,332.09) scale(1.22,1)" font-size="6.6" font-weight="bold" text-anchor="end" fill="#000" stroke="#000" stroke-width="0.3">10</text>
<text transform="translate(325.10,298.82) scale(1.22,1)" font-size="6.6" font-weight="bold" text-anchor="end" fill="#000" stroke="#000" stroke-width="0.3">20</text>
<text transform="translate(325.10,265.56) scale(1.22,1)" font-size="6.6" font-weight="bold" text-anchor="end" fill="#000" stroke="#000" stroke-width="0.3">30</text>
<text transform="translate(325.10,232.30) scale(1.22,1)" font-size="6.6" font-weight="bold" text-anchor="end" fill="#000" stroke="#000" stroke-width="0.3">40</text>
<text transform="translate(358.80,378.80) scale(1.18,1)" font-size="6.5" font-weight="bold" text-anchor="middle" fill="#000" stroke="#000" stroke-width="0.3">1.4</text>
<text transform="translate(418.80,378.80) scale(1.18,1)" font-size="6.5" font-weight="bold" text-anchor="middle" fill="#000" stroke="#000" stroke-width="0.3">1.6</text>
<text transform="translate(478.80,378.80) scale(1.18,1)" font-size="6.5" font-weight="bold" text-anchor="middle" fill="#000" stroke="#000" stroke-width="0.3">1.8</text>
<text transform="translate(538.80,378.80) scale(1.18,1)" font-size="6.5" font-weight="bold" text-anchor="middle" fill="#000" stroke="#000" stroke-width="0.3">2.0</text>
<text transform="translate(341.90,392.10) scale(1.228,1)" font-size="10.0" font-weight="normal" text-anchor="start" fill="#000" stroke="#000" stroke-width="0.15">IR corrected potential (V) <tspan font-style="italic">vs.</tspan> RHE</text>
<text transform="translate(306.00,301.80) scale(1.15,1) rotate(-90)" font-size="10.25" font-weight="normal" text-anchor="middle" fill="#000" stroke="#000" stroke-width="0.15">Current density (mA.cm<tspan font-size="6.6" dy="-5.0">-2</tspan><tspan dy="5.0">)</tspan></text>
<line x1="333.00" y1="236.00" x2="352.00" y2="236.00" stroke="#000" stroke-width="1.5" stroke-linecap="butt"/>
<text transform="translate(353.80,238.50) scale(1.22,1)" font-size="6.7" font-weight="normal" text-anchor="start" fill="#111" stroke="#111" stroke-width="0.15">Initial</text>
<line x1="333.00" y1="244.00" x2="352.00" y2="244.00" stroke="#ff0000" stroke-width="1.5" stroke-linecap="butt"/>
<text transform="translate(353.80,246.50) scale(1.22,1)" font-size="6.7" font-weight="normal" text-anchor="start" fill="#111" stroke="#111" stroke-width="0.15">1200 cycles</text>
<line x1="333.00" y1="252.00" x2="352.00" y2="252.00" stroke="#00ff00" stroke-width="1.5" stroke-linecap="butt"/>
<text transform="translate(353.80,254.50) scale(1.22,1)" font-size="6.7" font-weight="normal" text-anchor="start" fill="#111" stroke="#111" stroke-width="0.15">3000 cycles</text>
<path d="M329.50,362.40 L331.02,362.39 L333.00,362.39 L335.34,362.38 L337.98,362.37 L340.83,362.37 L343.81,362.36 L346.85,362.34 L349.85,362.33 L352.75,362.30 L355.46,362.28 L357.90,362.24 L360.00,362.20 L361.82,362.15 L363.51,362.10 L365.07,362.04 L366.51,361.98 L367.85,361.92 L369.09,361.84 L370.24,361.77 L371.31,361.69 L372.31,361.60 L373.25,361.50 L374.15,361.41 L375.00,361.30 L375.78,361.19 L376.45,361.07 L377.02,360.95 L377.51,360.81 L377.94,360.68 L378.31,360.54 L378.63,360.39 L378.93,360.24 L379.21,360.09 L379.49,359.93 L379.78,359.77 L380.10,359.60 L380.42,359.43 L380.72,359.26 L381.00,359.08 L381.26,358.90 L381.50,358.71 L381.73,358.52 L381.95,358.32 L382.17,358.13 L382.38,357.92 L382.58,357.72 L382.79,357.51 L383.00,357.30 L383.21,357.10 L383.40,356.92 L383.58,356.76 L383.76,356.60 L383.93,356.43 L384.09,356.26 L384.26,356.06 L384.43,355.84 L384.61,355.58 L384.80,355.27 L384.99,354.92 L385.20,354.50 L385.43,354.04 L385.67,353.54 L385.92,353.02 L386.18,352.46 L386.44,351.86 L386.71,351.23 L386.98,350.56 L387.24,349.84 L387.50,349.08 L387.75,348.27 L387.98,347.41 L388.20,346.50 L388.40,345.52 L388.60,344.45 L388.78,343.32 L388.96,342.13 L389.13,340.89 L389.30,339.62 L389.46,338.34 L389.61,337.04 L389.77,335.74 L389.91,334.46 L390.06,333.21 L390.20,332.00 L390.34,330.82 L390.48,329.66 L390.61,328.51 L390.73,327.37 L390.86,326.23 L390.98,325.09 L391.09,323.95 L391.20,322.80 L391.31,321.63 L391.41,320.44 L391.51,319.24 L391.60,318.00 L391.69,316.72 L391.77,315.39 L391.84,314.02 L391.91,312.63 L391.98,311.22 L392.04,309.81 L392.10,308.41 L392.16,307.04 L392.22,305.70 L392.28,304.40 L392.34,303.16 L392.40,302.00 L392.46,300.89 L392.52,299.81 L392.58,298.77 L392.64,297.76 L392.69,296.78 L392.75,295.84 L392.81,294.94 L392.86,294.07 L392.92,293.25 L392.98,292.46 L393.04,291.71 L393.10,291.00 L393.16,290.34 L393.22,289.75 L393.28,289.20 L393.34,288.70 L393.41,288.24 L393.47,287.81 L393.53,287.41 L393.60,287.02 L393.67,286.64 L393.74,286.27 L393.82,285.89 L393.90,285.50 L393.99,285.11 L394.07,284.73 L394.16,284.36 L394.26,284.01 L394.36,283.66 L394.46,283.32 L394.56,283.00 L394.66,282.68 L394.77,282.37 L394.88,282.07 L394.99,281.78 L395.10,281.50 L395.21,281.23 L395.33,280.97 L395.45,280.72 L395.57,280.49 L395.69,280.26 L395.81,280.04 L395.94,279.83 L396.07,279.62 L396.20,279.42 L396.33,279.21 L396.46,279.01 L396.60,278.80 L396.74,278.59 L396.88,278.39 L397.03,278.19 L397.18,278.00 L397.33,277.81 L397.48,277.62 L397.63,277.43 L397.79,277.24 L397.94,277.06 L398.10,276.87 L398.25,276.69 L398.40,276.50 L398.55,276.31 L398.70,276.13 L398.84,275.95 L398.99,275.77 L399.13,275.59 L399.28,275.41 L399.43,275.23 L399.58,275.04 L399.73,274.86 L399.88,274.68 L400.04,274.49 L400.20,274.30 L400.36,274.11 L400.53,273.91 L400.70,273.71 L400.87,273.50 L401.04,273.30 L401.22,273.09 L401.40,272.89 L401.57,272.69 L401.75,272.48 L401.93,272.28 L402.12,272.09 L402.30,271.90 L402.48,271.71 L402.66,271.53 L402.85,271.35 L403.03,271.17 L403.21,271.00 L403.40,270.82 L403.59,270.65 L403.78,270.48 L403.98,270.31 L404.18,270.14 L404.39,269.97 L404.60,269.80 L404.82,269.63 L405.04,269.46 L405.27,269.29 L405.50,269.11 L405.74,268.94 L405.98,268.78 L406.22,268.61 L406.47,268.44 L406.72,268.28 L406.98,268.11 L407.24,267.96 L407.50,267.80 L407.77,267.65 L408.03,267.50 L408.30,267.36 L408.57,267.22 L408.84,267.09 L409.12,266.95 L409.40,266.81 L409.70,266.68 L410.01,266.54 L410.32,266.40 L410.65,266.25 L411.00,266.10 L411.36,265.95 L411.73,265.79 L412.10,265.63 L412.49,265.47 L412.89,265.31 L413.29,265.14 L413.71,264.98 L414.14,264.81 L414.59,264.64 L415.05,264.46 L415.52,264.28 L416.00,264.10 L416.49,263.92 L416.97,263.74 L417.45,263.55 L417.94,263.37 L418.44,263.18 L418.96,262.99 L419.51,262.80 L420.08,262.60 L420.69,262.39 L421.34,262.17 L422.05,261.94 L422.80,261.70 L423.62,261.44 L424.52,261.17 L425.48,260.88 L426.48,260.57 L427.52,260.26 L428.59,259.95 L429.66,259.64 L430.74,259.33 L431.80,259.02 L432.84,258.73 L433.85,258.46 L434.80,258.20 L435.70,257.96 L436.55,257.75 L437.36,257.55 L438.16,257.36 L438.93,257.18 L439.71,257.00 L440.50,256.82 L441.31,256.64 L442.15,256.45 L443.04,256.25 L443.99,256.04 L445.00,255.80 L446.09,255.54 L447.25,255.27 L448.47,254.98 L449.73,254.69 L451.03,254.38 L452.34,254.07 L453.67,253.76 L454.99,253.45 L456.30,253.14 L457.58,252.85 L458.82,252.57 L460.00,252.30 L461.12,252.05 L462.20,251.80 L463.23,251.57 L464.23,251.34 L465.22,251.12 L466.21,250.90 L467.20,250.68 L468.21,250.47 L469.26,250.26 L470.34,250.04 L471.49,249.82 L472.70,249.60 L473.97,249.37 L475.26,249.15 L476.59,248.92 L477.95,248.69 L479.34,248.46 L480.77,248.24 L482.23,248.01 L483.71,247.79 L485.24,247.56 L486.79,247.34 L488.38,247.12 L490.00,246.90 L491.74,246.68 L493.65,246.44 L495.69,246.20 L497.80,245.96 L499.95,245.72 L502.08,245.48 L504.15,245.25 L506.12,245.04 L507.94,244.84 L509.55,244.67 L510.92,244.52 L512.00,244.40" fill="none" stroke="#000" stroke-width="1.6" stroke-linejoin="round" stroke-linecap="round"/>
<path d="M329.50,362.40 L331.02,362.39 L333.00,362.38 L335.34,362.37 L337.98,362.36 L340.83,362.35 L343.81,362.34 L346.85,362.32 L349.85,362.30 L352.75,362.28 L355.46,362.26 L357.90,362.23 L360.00,362.20 L361.82,362.17 L363.50,362.13 L365.05,362.10 L366.48,362.06 L367.80,362.02 L369.03,361.97 L370.17,361.93 L371.24,361.87 L372.25,361.82 L373.20,361.75 L374.11,361.68 L375.00,361.60 L375.82,361.52 L376.54,361.43 L377.17,361.34 L377.73,361.25 L378.23,361.15 L378.68,361.05 L379.08,360.94 L379.47,360.81 L379.84,360.68 L380.21,360.54 L380.59,360.38 L381.00,360.20 L381.42,360.01 L381.78,359.80 L382.11,359.59 L382.44,359.36 L382.74,359.12 L383.04,358.86 L383.32,358.60 L383.58,358.32 L383.84,358.03 L384.08,357.73 L384.31,357.42 L384.53,357.09 L384.73,356.75 L384.91,356.39 L385.08,356.02 L385.23,355.64 L385.37,355.25 L385.50,354.84 L385.70,354.44 L385.92,354.03 L386.13,353.61 L386.35,353.18 L386.57,352.74 L386.80,352.30 L387.03,351.88 L387.26,351.49 L387.50,351.13 L387.73,350.77 L387.96,350.41 L388.19,350.02 L388.42,349.59 L388.65,349.10 L388.89,348.55 L389.12,347.91 L389.36,347.16 L389.60,346.30 L389.85,345.29 L390.10,344.15 L390.35,342.88 L390.61,341.51 L390.88,340.08 L391.14,338.59 L391.40,337.09 L391.65,335.59 L391.90,334.11 L392.14,332.69 L392.38,331.35 L392.60,330.10 L392.81,328.96 L393.02,327.89 L393.22,326.88 L393.41,325.92 L393.60,324.99 L393.78,324.06 L393.96,323.13 L394.13,322.18 L394.30,321.18 L394.47,320.13 L394.68,319.01 L394.91,317.80 L395.13,316.47 L395.36,315.04 L395.59,313.51 L395.83,311.93 L396.06,310.30 L396.29,308.66 L396.51,307.02 L396.73,305.42 L396.93,303.87 L397.12,302.40 L397.31,301.04 L397.47,299.80 L397.62,298.70 L397.75,297.66 L397.87,296.69 L397.97,295.78 L398.06,294.92 L398.11,294.11 L398.16,293.34 L398.20,292.62 L398.25,291.93 L398.29,291.26 L398.34,290.62 L398.40,290.00 L398.46,289.41 L398.51,288.87 L398.56,288.38 L398.61,287.93 L398.66,287.51 L398.71,287.12 L398.76,286.76 L398.81,286.41 L398.88,286.06 L398.94,285.72 L399.02,285.37 L399.10,285.00 L399.19,284.63 L399.29,284.28 L399.39,283.94 L399.50,283.61 L399.61,283.28 L399.73,282.96 L399.85,282.64 L399.97,282.33 L400.10,282.00 L400.23,281.68 L400.36,281.34 L400.50,281.00 L400.64,280.64 L400.78,280.27 L400.93,279.89 L401.09,279.50 L401.24,279.10 L401.40,278.71 L401.56,278.33 L401.73,277.95 L401.89,277.58 L402.06,277.23 L402.23,276.90 L402.40,276.60 L402.57,276.32 L402.74,276.05 L402.91,275.80 L403.09,275.57 L403.26,275.35 L403.44,275.14 L403.62,274.94 L403.80,274.74 L403.99,274.55 L404.19,274.37 L404.39,274.18 L404.60,274.00 L404.82,273.82 L405.04,273.65 L405.27,273.48 L405.51,273.33 L405.75,273.17 L406.00,273.02 L406.25,272.88 L406.50,272.74 L406.75,272.60 L407.00,272.47 L407.25,272.33 L407.50,272.20 L407.74,272.07 L407.97,271.95 L408.18,271.84 L408.40,271.73 L408.62,271.63 L408.84,271.52 L409.07,271.42 L409.31,271.31 L409.57,271.20 L409.85,271.07 L410.16,270.94 L410.50,270.80 L410.87,270.64 L411.27,270.48 L411.69,270.31 L412.13,270.13 L412.59,269.94 L413.06,269.75 L413.55,269.56 L414.04,269.36 L414.53,269.17 L415.03,268.98 L415.52,268.79 L416.00,268.60 L416.47,268.42 L416.93,268.25 L417.38,268.08 L417.82,267.91 L418.27,267.74 L418.73,267.57 L419.21,267.39 L419.70,267.21 L420.22,267.03 L420.77,266.83 L421.37,266.62 L422.00,266.40 L422.67,266.16 L423.37,265.92 L424.10,265.66 L424.86,265.40 L425.64,265.12 L426.45,264.84 L427.28,264.56 L428.14,264.27 L429.02,263.98 L429.93,263.69 L430.00,264.24 L431.68,262.14 L433.07,263.75 L434.48,262.08 L435.89,261.34 L437.60,260.31 L438.88,260.41 L440.35,261.36 L442.65,260.64 L444.54,259.74 L446.70,259.65 L448.87,257.37 L450.92,257.87 L452.42,257.69 L453.89,256.63 L455.19,257.98 L456.88,256.97 L459.18,256.75 L461.29,256.66 L463.22,255.46 L464.58,256.51 L466.49,253.92 L468.18,254.43 L470.52,255.06 L472.64,254.96 L474.51,254.21 L476.83,253.95 L478.45,253.19 L480.22,252.87 L481.78,253.63 L483.73,253.05 L485.14,252.15 L487.45,251.24 L490.00,252.30 L493.00,250.92 L496.00,252.57 L499.00,250.73 L501.00,252.48 L503.00,250.73 L505.00,251.68 L507.00,249.83 L509.00,251.28 L510.50,249.35 L512.50,250.00 L514.50,249.50 L516.10,254.40" fill="none" stroke="#ff0000" stroke-width="1.6" stroke-linejoin="round" stroke-linecap="round"/>
<path d="M329.50,362.40 L331.02,362.39 L333.00,362.38 L335.34,362.37 L337.98,362.36 L340.83,362.35 L343.81,362.34 L346.85,362.32 L349.85,362.30 L352.75,362.28 L355.46,362.26 L357.90,362.23 L360.00,362.20 L361.82,362.17 L363.50,362.13 L365.05,362.10 L366.48,362.06 L367.80,362.02 L369.03,361.97 L370.17,361.93 L371.24,361.87 L372.25,361.82 L373.20,361.75 L374.11,361.68 L375.00,361.60 L375.82,361.52 L376.54,361.43 L377.17,361.34 L377.73,361.25 L378.23,361.15 L378.68,361.05 L379.08,360.94 L379.47,360.81 L379.84,360.68 L380.21,360.54 L380.59,360.38 L381.00,360.20 L381.42,360.01 L381.82,359.81 L382.21,359.60 L382.59,359.38 L382.95,359.15 L383.30,358.91 L383.64,358.65 L383.97,358.39 L384.29,358.11 L384.60,357.82 L384.90,357.51 L385.20,357.20 L385.48,356.87 L385.75,356.53 L386.00,356.18 L386.24,355.81 L386.47,355.43 L386.69,355.04 L386.90,354.64 L387.12,354.23 L387.33,353.81 L387.55,353.38 L387.77,352.94 L388.00,352.50 L388.23,352.08 L388.46,351.69 L388.70,351.33 L388.93,350.97 L389.16,350.61 L389.39,350.22 L389.62,349.79 L389.85,349.30 L390.09,348.75 L390.32,348.11 L390.56,347.36 L390.80,346.50 L391.05,345.49 L391.30,344.35 L391.55,343.08 L391.81,341.71 L392.08,340.28 L392.34,338.79 L392.60,337.29 L392.85,335.79 L393.10,334.31 L393.34,332.89 L393.58,331.55 L393.80,330.30 L394.01,329.16 L394.22,328.09 L394.42,327.08 L394.61,326.12 L394.80,325.19 L394.98,324.26 L395.16,323.33 L395.33,322.38 L395.50,321.38 L395.67,320.33 L395.84,319.21 L396.00,318.00 L396.16,316.67 L396.32,315.24 L396.48,313.71 L396.64,312.13 L396.79,310.50 L396.94,308.86 L397.09,307.22 L397.23,305.62 L397.36,304.07 L397.48,302.60 L397.59,301.24 L397.70,300.00 L397.79,298.87 L397.87,297.81 L397.95,296.82 L398.01,295.89 L398.06,295.01 L398.11,294.19 L398.16,293.41 L398.20,292.67 L398.25,291.96 L398.29,291.28 L398.34,290.63 L398.40,290.00 L398.46,289.41 L398.51,288.87 L398.56,288.38 L398.61,287.93 L398.66,287.51 L398.71,287.12 L398.76,286.76 L398.81,286.41 L398.88,286.06 L398.94,285.72 L399.02,285.37 L399.10,285.00 L399.19,284.63 L399.29,284.28 L399.39,283.94 L399.50,283.61 L399.61,283.28 L399.73,282.96 L399.85,282.64 L399.97,282.33 L400.10,282.00 L400.23,281.68 L400.36,281.34 L400.50,281.00 L400.64,280.64 L400.78,280.27 L400.93,279.89 L401.09,279.50 L401.24,279.10 L401.40,278.71 L401.56,278.33 L401.73,277.95 L401.89,277.58 L402.06,277.23 L402.23,276.90 L402.40,276.60 L402.57,276.32 L402.74,276.05 L402.91,275.80 L403.09,275.57 L403.26,275.35 L403.44,275.14 L403.62,274.94 L403.80,274.74 L403.99,274.55 L404.19,274.37 L404.39,274.18 L404.60,274.00 L404.82,273.82 L405.04,273.65 L405.27,273.48 L405.51,273.33 L405.75,273.17 L406.00,273.02 L406.25,272.88 L406.50,272.74 L406.75,272.60 L407.00,272.47 L407.25,272.33 L407.50,272.20 L407.74,272.07 L407.97,271.95 L408.18,271.84 L408.40,271.73 L408.62,271.63 L408.84,271.52 L409.07,271.42 L409.31,271.31 L409.57,271.20 L409.85,271.07 L410.16,270.94 L410.50,270.80 L410.87,270.64 L411.27,270.48 L411.69,270.31 L412.13,270.13 L412.59,269.94 L413.06,269.75 L413.55,269.56 L414.04,269.36 L414.53,269.17 L415.03,268.98 L415.52,268.79 L416.00,268.60 L416.47,268.42 L416.93,268.25 L417.38,268.08 L417.82,267.91 L418.27,267.74 L418.73,267.57 L419.21,267.39 L419.70,267.21 L420.22,267.03 L420.77,266.83 L421.37,266.62 L422.00,266.40 L422.67,266.16 L423.37,265.92 L424.10,265.66 L424.86,265.40 L425.64,265.12 L426.45,264.84 L427.28,264.56 L428.14,264.27 L429.02,263.98 L429.93,263.69 L430.85,263.39 L431.80,263.10 L432.78,262.80 L433.78,262.50 L434.82,262.19 L435.88,261.87 L436.97,261.56 L438.08,261.24 L439.20,260.92 L440.34,260.60 L441.49,260.29 L442.66,259.99 L443.83,259.69 L445.00,259.40 L446.19,259.12 L447.42,258.84 L448.68,258.57 L449.95,258.30 L451.24,258.03 L452.53,257.77 L453.82,257.51 L455.10,257.26 L456.37,257.01 L457.61,256.77 L458.82,256.53 L460.00,256.30 L461.12,256.07 L462.20,255.86 L463.23,255.64 L464.23,255.44 L465.22,255.24 L466.21,255.04 L467.20,254.84 L468.21,254.65 L469.26,254.46 L470.34,254.27 L471.49,254.09 L472.70,253.90 L473.98,253.71 L475.30,253.53 L476.67,253.34 L478.07,253.16 L479.51,252.97 L480.98,252.79 L482.46,252.62 L483.96,252.44 L485.47,252.28 L486.98,252.11 L488.00,252.00 L490.50,252.65 L493.00,251.12 L495.50,252.11 L498.00,250.61 L500.50,251.82 L503.00,250.13 L505.50,251.24 L508.00,249.56 L510.00,250.79 L512.00,249.50" fill="none" stroke="#00ff00" stroke-width="1.6" stroke-linejoin="round" stroke-linecap="round"/>
<path d="M398.00,290.80 L397.40,288.60 L397.80,286.60" fill="none" stroke="#ff0000" stroke-width="1.6" stroke-linejoin="round" stroke-linecap="round"/>
<rect x="328.80" y="230.30" width="210.00" height="139.70" fill="none" stroke="#000" stroke-width="1.6"/>
<line x1="328.80" y1="370.00" x2="328.80" y2="368.30" stroke="#000" stroke-width="1.3" stroke-linecap="butt"/>
<line x1="358.80" y1="370.00" x2="358.80" y2="367.00" stroke="#000" stroke-width="1.3" stroke-linecap="butt"/>
<line x1="388.80" y1="370.00" x2="388.80" y2="368.30" stroke="#000" stroke-width="1.3" stroke-linecap="butt"/>
<line x1="418.80" y1="370.00" x2="418.80" y2="367.00" stroke="#000" stroke-width="1.3" stroke-linecap="butt"/>
<line x1="448.80" y1="370.00" x2="448.80" y2="368.30" stroke="#000" stroke-width="1.3" stroke-linecap="butt"/>
<line x1="478.80" y1="370.00" x2="478.80" y2="367.00" stroke="#000" stroke-width="1.3" stroke-linecap="butt"/>
<line x1="508.80" y1="370.00" x2="508.80" y2="368.30" stroke="#000" stroke-width="1.3" stroke-linecap="butt"/>
<line x1="538.80" y1="370.00" x2="538.80" y2="367.00" stroke="#000" stroke-width="1.3" stroke-linecap="butt"/>
<line x1="328.80" y1="363.35" x2="331.80" y2="363.35" stroke="#000" stroke-width="1.3" stroke-linecap="butt"/>
<line x1="328.80" y1="346.72" x2="330.50" y2="346.72" stroke="#000" stroke-width="1.3" stroke-linecap="butt"/>
<line x1="328.80" y1="330.09" x2="331.80" y2="330.09" stroke="#000" stroke-width="1.3" stroke-linecap="butt"/>
<line x1="328.80" y1="313.45" x2="330.50" y2="313.45" stroke="#000" stroke-width="1.3" stroke-linecap="butt"/>
<line x1="328.80" y1="296.82" x2="331.80" y2="296.82" stroke="#000" stroke-width="1.3" stroke-linecap="butt"/>
<line x1="328.80" y1="280.19" x2="330.50" y2="280.19" stroke="#000" stroke-width="1.3" stroke-linecap="butt"/>
<line x1="328.80" y1="263.56" x2="331.80" y2="263.56" stroke="#000" stroke-width="1.3" stroke-linecap="butt"/>
<line x1="328.80" y1="246.93" x2="330.50" y2="246.93" stroke="#000" stroke-width="1.3" stroke-linecap="butt"/>
<line x1="328.80" y1="230.30" x2="331.80" y2="230.30" stroke="#000" stroke-width="1.3" stroke-linecap="butt"/>
<rect x="427.30" y="298.30" width="99.00" height="52.00" fill="#fff" stroke="none"/>
<path d="M430.50,348.60 L430.55,348.53 L430.60,348.45 L430.66,348.35 L430.72,348.24 L430.80,348.12 L430.88,347.99 L430.96,347.85 L431.06,347.72 L431.16,347.58 L431.26,347.45 L431.38,347.32 L431.50,347.20 L431.63,347.08 L431.77,346.97 L431.92,346.85 L432.07,346.74 L432.24,346.62 L432.41,346.51 L432.58,346.39 L432.76,346.27 L432.94,346.16 L433.13,346.04 L433.31,345.92 L433.50,345.80 L433.69,345.68 L433.89,345.56 L434.09,345.43 L434.30,345.31 L434.51,345.19 L434.72,345.06 L434.93,344.94 L435.15,344.81 L435.36,344.68 L435.58,344.56 L435.79,344.43 L436.00,344.30 L436.21,344.17 L436.42,344.04 L436.62,343.90 L436.83,343.77 L437.04,343.64 L437.25,343.50 L437.46,343.36 L437.67,343.23 L437.88,343.10 L438.08,342.96 L438.29,342.83 L438.50,342.70 L438.72,342.57 L438.95,342.43 L439.18,342.28 L439.43,342.14 L439.67,341.99 L439.91,341.85 L440.14,341.71 L440.35,341.59 L440.55,341.47 L440.73,341.36 L440.88,341.27 L441.00,341.20" fill="none" stroke="#ff0000" stroke-width="1.9" stroke-linejoin="round" stroke-linecap="round"/>
<path d="M430.60,349.20 L430.67,349.16 L430.75,349.10 L430.84,349.04 L430.94,348.97 L431.05,348.90 L431.18,348.82 L431.30,348.73 L431.44,348.65 L431.58,348.56 L431.72,348.47 L431.86,348.38 L432.00,348.30 L432.14,348.22 L432.29,348.13 L432.45,348.05 L432.60,347.97 L432.77,347.88 L432.93,347.79 L433.10,347.70 L433.27,347.61 L433.45,347.51 L433.63,347.41 L433.81,347.31 L434.00,347.20 L434.19,347.08 L434.39,346.96 L434.59,346.84 L434.80,346.71 L435.01,346.58 L435.22,346.44 L435.43,346.31 L435.65,346.17 L435.86,346.03 L436.08,345.88 L436.29,345.74 L436.50,345.60 L436.71,345.46 L436.92,345.31 L437.12,345.16 L437.33,345.01 L437.54,344.86 L437.75,344.71 L437.96,344.56 L438.17,344.41 L438.38,344.25 L438.58,344.10 L438.79,343.95 L439.00,343.80 L439.22,343.64 L439.45,343.48 L439.68,343.31 L439.93,343.13 L440.17,342.96 L440.41,342.79 L440.64,342.62 L440.85,342.47 L441.05,342.32 L441.23,342.20 L441.38,342.09 L441.50,342.00" fill="none" stroke="#00ff00" stroke-width="1.9" stroke-linejoin="round" stroke-linecap="round"/>
<rect x="478.15" y="317.35" width="1.9" height="1.9" fill="#000"/>
<rect x="469.85" y="322.85" width="1.9" height="1.9" fill="#000"/>
<rect x="463.15" y="327.65" width="1.9" height="1.9" fill="#000"/>
<rect x="457.15" y="330.85" width="1.9" height="1.9" fill="#000"/>
<rect x="452.55" y="334.15" width="1.9" height="1.9" fill="#000"/>
<rect x="448.45" y="336.35" width="1.9" height="1.9" fill="#000"/>
<rect x="495.05" y="308.65" width="1.9" height="1.9" fill="#ff0000"/>
<rect x="482.95" y="315.65" width="1.9" height="1.9" fill="#ff0000"/>
<rect x="472.65" y="321.15" width="1.9" height="1.9" fill="#ff0000"/>
<rect x="464.05" y="325.85" width="1.9" height="1.9" fill="#ff0000"/>
<rect x="457.35" y="330.15" width="1.9" height="1.9" fill="#ff0000"/>
<rect x="452.25" y="333.45" width="1.9" height="1.9" fill="#ff0000"/>
<rect x="448.05" y="336.15" width="1.9" height="1.9" fill="#ff0000"/>
<rect x="444.55" y="337.95" width="1.9" height="1.9" fill="#ff0000"/>
<rect x="441.65" y="339.65" width="1.9" height="1.9" fill="#ff0000"/>
<rect x="439.15" y="341.55" width="1.9" height="1.9" fill="#ff0000"/>
<rect x="500.75" y="306.95" width="1.9" height="1.9" fill="#00ff00"/>
<rect x="487.35" y="313.85" width="1.9" height="1.9" fill="#00ff00"/>
<rect x="476.05" y="319.85" width="1.9" height="1.9" fill="#00ff00"/>
<rect x="466.95" y="324.85" width="1.9" height="1.9" fill="#00ff00"/>
<rect x="460.05" y="328.85" width="1.9" height="1.9" fill="#00ff00"/>
<rect x="454.45" y="332.35" width="1.9" height="1.9" fill="#00ff00"/>
<rect x="449.55" y="335.25" width="1.9" height="1.9" fill="#00ff00"/>
<rect x="445.65" y="337.75" width="1.9" height="1.9" fill="#00ff00"/>
<rect x="442.85" y="339.25" width="1.9" height="1.9" fill="#00ff00"/>
<rect x="440.55" y="340.75" width="1.9" height="1.9" fill="#00ff00"/>
<rect x="438.05" y="342.55" width="1.9" height="1.9" fill="#00ff00"/>
<rect x="427.30" y="298.30" width="99.00" height="52.00" fill="none" stroke="#1a1a1a" stroke-width="1.05"/>
<line x1="430.49" y1="350.30" x2="430.49" y2="348.50" stroke="#000" stroke-width="0.8" stroke-linecap="butt"/>
<text transform="translate(430.49,355.70) scale(1.2,1)" font-size="4.9" font-weight="bold" text-anchor="middle" fill="#000" stroke="#000" stroke-width="0.12">0</text>
<line x1="446.46" y1="350.30" x2="446.46" y2="349.20" stroke="#000" stroke-width="0.8" stroke-linecap="butt"/>
<line x1="462.43" y1="350.30" x2="462.43" y2="348.50" stroke="#000" stroke-width="0.8" stroke-linecap="butt"/>
<text transform="translate(462.43,355.70) scale(1.2,1)" font-size="4.9" font-weight="bold" text-anchor="middle" fill="#000" stroke="#000" stroke-width="0.12">1000</text>
<line x1="478.40" y1="350.30" x2="478.40" y2="349.20" stroke="#000" stroke-width="0.8" stroke-linecap="butt"/>
<line x1="494.36" y1="350.30" x2="494.36" y2="348.50" stroke="#000" stroke-width="0.8" stroke-linecap="butt"/>
<text transform="translate(494.36,355.70) scale(1.2,1)" font-size="4.9" font-weight="bold" text-anchor="middle" fill="#000" stroke="#000" stroke-width="0.12">2000</text>
<line x1="510.33" y1="350.30" x2="510.33" y2="349.20" stroke="#000" stroke-width="0.8" stroke-linecap="butt"/>
<line x1="526.30" y1="350.30" x2="526.30" y2="348.50" stroke="#000" stroke-width="0.8" stroke-linecap="butt"/>
<text transform="translate(526.30,355.70) scale(1.2,1)" font-size="4.9" font-weight="bold" text-anchor="middle" fill="#000" stroke="#000" stroke-width="0.12">3000</text>
<line x1="427.30" y1="348.30" x2="429.10" y2="348.30" stroke="#000" stroke-width="0.8" stroke-linecap="butt"/>
<text transform="translate(425.30,350.00) scale(1.2,1)" font-size="4.9" font-weight="bold" text-anchor="end" fill="#000" stroke="#000" stroke-width="0.12">0</text>
<line x1="427.30" y1="343.30" x2="428.40" y2="343.30" stroke="#000" stroke-width="0.8" stroke-linecap="butt"/>
<line x1="427.30" y1="338.30" x2="429.10" y2="338.30" stroke="#000" stroke-width="0.8" stroke-linecap="butt"/>
<text transform="translate(425.30,340.00) scale(1.2,1)" font-size="4.9" font-weight="bold" text-anchor="end" fill="#000" stroke="#000" stroke-width="0.12">1000</text>
<line x1="427.30" y1="333.30" x2="428.40" y2="333.30" stroke="#000" stroke-width="0.8" stroke-linecap="butt"/>
<line x1="427.30" y1="328.30" x2="429.10" y2="328.30" stroke="#000" stroke-width="0.8" stroke-linecap="butt"/>
<text transform="translate(425.30,330.00) scale(1.2,1)" font-size="4.9" font-weight="bold" text-anchor="end" fill="#000" stroke="#000" stroke-width="0.12">2000</text>
<line x1="427.30" y1="323.30" x2="428.40" y2="323.30" stroke="#000" stroke-width="0.8" stroke-linecap="butt"/>
<line x1="427.30" y1="318.30" x2="429.10" y2="318.30" stroke="#000" stroke-width="0.8" stroke-linecap="butt"/>
<text transform="translate(425.30,320.00) scale(1.2,1)" font-size="4.9" font-weight="bold" text-anchor="end" fill="#000" stroke="#000" stroke-width="0.12">3000</text>
<line x1="427.30" y1="313.30" x2="428.40" y2="313.30" stroke="#000" stroke-width="0.8" stroke-linecap="butt"/>
<line x1="427.30" y1="308.30" x2="429.10" y2="308.30" stroke="#000" stroke-width="0.8" stroke-linecap="butt"/>
<text transform="translate(425.30,310.00) scale(1.2,1)" font-size="4.9" font-weight="bold" text-anchor="end" fill="#000" stroke="#000" stroke-width="0.12">4000</text>
<line x1="427.30" y1="303.30" x2="428.40" y2="303.30" stroke="#000" stroke-width="0.8" stroke-linecap="butt"/>
<line x1="427.30" y1="298.30" x2="429.10" y2="298.30" stroke="#000" stroke-width="0.8" stroke-linecap="butt"/>
<text transform="translate(425.30,300.00) scale(1.2,1)" font-size="4.9" font-weight="bold" text-anchor="end" fill="#000" stroke="#000" stroke-width="0.12">5000</text>
<text transform="translate(478.90,364.40) scale(1.2,1)" font-size="6.4" font-weight="normal" text-anchor="middle" fill="#000" stroke="#000" stroke-width="0.12">Z' (&#937;.cm<tspan font-size='3.9' dy='-2.3'>-2</tspan><tspan dy='2.3'>)</tspan></text>
<text transform="translate(407.10,321.80) scale(1.2,1) rotate(-90)" font-size="6.4" font-weight="normal" text-anchor="middle" fill="#000" stroke="#000" stroke-width="0.12">Z'' (&#937;.cm<tspan font-size='3.9' dy='-2.0'>-2</tspan><tspan dy='2.0'>)</tspan></text>
</svg>
</body></html>
